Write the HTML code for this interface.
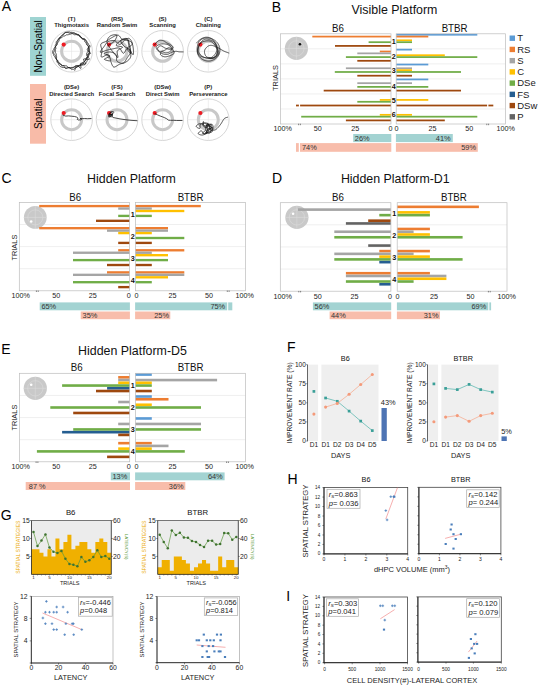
<!DOCTYPE html>
<html><head><meta charset="utf-8"><title>Figure</title>
<style>html,body{margin:0;padding:0;background:#fff;}body{width:539px;height:685px;overflow:hidden;font-family:"Liberation Sans",sans-serif;}svg{display:block;}</style>
</head><body>
<svg width="539" height="685" viewBox="0 0 539 685" font-family='"Liberation Sans", sans-serif'>
<text x="6.5" y="11.23" font-size="14" text-anchor="middle" fill="#000">A</text>
<rect x="30" y="17" width="16" height="58.8" fill="#9fd4d2"/>
<rect x="30" y="84" width="16" height="59.7" fill="#f8bba8"/>
<text transform="translate(38.2,46.4) rotate(-90)" x="0" y="3.45" font-size="10" text-anchor="middle" fill="#000">Non-Spatial</text>
<text transform="translate(38.2,113.8) rotate(-90)" x="0" y="3.45" font-size="10" text-anchor="middle" fill="#000">Spatial</text>
<text x="71.6" y="21.04" font-size="5.9" text-anchor="middle" fill="#222" font-weight="bold">(T)</text>
<text x="71.6" y="27.34" font-size="5.9" text-anchor="middle" fill="#222" font-weight="bold">Thigmotaxis</text>
<circle cx="71.6" cy="51.3" r="20.8" fill="none" stroke="#c4c4c4" stroke-width="0.7"/>
<line x1="50.8" y1="51.3" x2="92.4" y2="51.3" stroke="#e2e2e2" stroke-width="0.6"/>
<line x1="71.6" y1="30.5" x2="71.6" y2="72.1" stroke="#e2e2e2" stroke-width="0.6"/>
<circle cx="71.6" cy="51.3" r="10" fill="none" stroke="#c8c8c8" stroke-width="3"/>
<circle cx="63.7" cy="44.6" r="2.1" fill="#ee1c24" stroke="none" stroke-width="1"/>
<polyline points="60.07,38.4 60.29,38.24 60.54,38.11 60.8,38.01 61.06,37.89 61.29,37.76 61.52,37.62 61.74,37.47 61.96,37.31 62.17,37.15 62.38,36.97 62.58,36.8 62.8,36.64 63.01,36.47 63.22,36.29 63.45,36.14 63.7,36.04 63.98,35.99 64.27,35.98 64.56,35.97 64.83,35.93 65.08,35.84 65.31,35.7 65.52,35.51 65.73,35.31 65.94,35.11 66.17,34.94 66.42,34.84 66.7,34.81 66.97,34.8 67.25,34.79 67.53,34.79 67.8,34.77 68.06,34.73 68.32,34.68 68.58,34.62 68.84,34.56 69.1,34.49 69.36,34.42 69.62,34.36 69.89,34.29 70.15,34.22 70.42,34.15 70.68,34.07 70.95,33.97 71.22,33.83 71.49,33.71 71.77,33.62 72.05,33.58 72.33,33.61 72.6,33.68 72.87,33.8 73.14,33.94 73.4,34.09 73.65,34.25 73.9,34.42 74.15,34.56 74.4,34.66 74.66,34.72 74.93,34.74 75.21,34.71 75.5,34.64 75.79,34.57 76.08,34.54 76.36,34.56 76.63,34.61 76.89,34.7 77.14,34.8 77.41,34.88 77.68,34.94 77.95,34.98 78.23,35.04 78.49,35.13 78.73,35.26 78.96,35.43 79.17,35.63 79.38,35.82 79.6,35.98 79.85,36.1 80.1,36.21 80.34,36.32 80.58,36.46 80.8,36.62 81.01,36.81 81.18,37.03 81.34,37.28 81.48,37.55 81.6,37.83 81.72,38.11 81.84,38.37 81.98,38.61 82.16,38.8 82.38,38.94 82.66,39.01 82.98,39.05 83.31,39.08 83.64,39.13 83.94,39.22 84.17,39.37 84.33,39.59 84.42,39.88 84.44,40.21 84.45,40.55 84.47,40.88 84.51,41.18 84.6,41.43 84.75,41.64 84.93,41.83 85.14,42 85.35,42.17 85.54,42.35 85.73,42.54 85.9,42.75 86.04,42.97 86.16,43.2 86.26,43.44 86.33,43.7 86.39,43.96 86.46,44.22 86.54,44.46 86.66,44.69 86.82,44.91 87.02,45.1 87.27,45.29 87.56,45.46 87.84,45.65 88.1,45.85 88.29,46.07 88.41,46.32 88.48,46.59 88.52,46.87 88.53,47.15 88.54,47.43 88.55,47.7 88.57,47.98 88.64,48.24 88.77,48.5 88.92,48.75 89.07,49.01 89.2,49.27 89.27,49.54 89.31,49.82 89.3,50.1 89.27,50.38 89.23,50.66 89.22,50.94 89.24,51.22 89.3,51.49 89.35,51.77 89.36,52.05 89.32,52.33 89.21,52.6 89.06,52.87 88.9,53.13 88.76,53.39 88.68,53.65 88.68,53.92 88.72,54.21 88.79,54.5 88.84,54.79 88.85,55.07 88.8,55.35 88.72,55.61 88.6,55.87 88.45,56.11 88.28,56.35 88.1,56.58 87.93,56.81 87.79,57.05 87.64,57.28 87.48,57.51 87.32,57.73 87.17,57.96 87.06,58.2 86.96,58.45 86.88,58.7 86.77,58.95 86.63,59.18 86.47,59.39 86.29,59.6 86.1,59.79 85.87,59.96 85.65,60.13 85.45,60.32 85.29,60.52 85.15,60.74 85.02,60.96 84.85,61.16 84.65,61.33 84.4,61.47 84.14,61.59 83.89,61.71 83.65,61.84 83.43,61.98 83.21,62.12 82.99,62.25 82.76,62.37 82.53,62.49 82.32,62.62 82.12,62.76 81.94,62.93 81.8,63.14 81.68,63.39 81.57,63.65 81.46,63.91 81.33,64.16 81.18,64.38 81,64.56 80.82,64.76 80.65,64.96 80.47,65.16 80.26,65.31 80.03,65.43 79.78,65.51 79.51,65.56 79.23,65.58 78.95,65.59 78.68,65.61 78.43,65.67 78.22,65.82 78.05,66.05 77.9,66.35 77.75,66.67 77.57,66.93 77.36,67.12 77.12,67.22 76.83,67.21 76.52,67.07 76.19,66.88 75.87,66.68 75.57,66.54 75.31,66.51 75.08,66.6 74.86,66.75 74.63,66.9 74.4,67.02 74.16,67.09 73.91,67.13 73.66,67.16 73.41,67.19 73.16,67.23 72.91,67.3 72.67,67.37 72.42,67.46 72.17,67.56 71.91,67.67 71.66,67.76 71.4,67.84 71.13,67.9 70.87,67.96 70.61,67.99 70.34,68 70.08,67.96 69.82,67.89 69.57,67.8 69.32,67.71 69.07,67.63 68.82,67.57 68.56,67.51 68.31,67.46 68.04,67.45 67.76,67.51 67.46,67.63 67.14,67.8 66.81,67.97 66.48,68.12 66.16,68.23 65.85,68.28 65.56,68.23 65.3,68.12 65.07,67.96 64.85,67.73 64.67,67.46 64.49,67.17 64.34,66.85 64.21,66.5 64.08,66.17 63.94,65.88 63.75,65.69 63.5,65.6 63.21,65.59 62.87,65.64 62.51,65.71 62.18,65.74 61.9,65.67 61.69,65.49 61.55,65.22 61.46,64.89 61.37,64.57 61.25,64.3 61.07,64.1 60.85,63.96 60.57,63.88 60.27,63.82 59.98,63.75 59.72,63.63 59.52,63.45 59.36,63.23 59.22,62.99 59.07,62.76 58.91,62.55 58.73,62.35 58.56,62.14 58.42,61.92 58.3,61.67 58.21,61.41 58.13,61.14 58.04,60.88 57.93,60.64 57.76,60.44 57.55,60.27 57.3,60.11 57.04,59.96 56.8,59.79 56.57,59.61 56.37,59.41 56.2,59.19 56.04,58.97 55.87,58.75 55.7,58.52 55.56,58.29 55.44,58.04 55.33,57.79 55.21,57.54 55.1,57.28 54.98,57.04 54.82,56.8 54.63,56.56 54.4,56.34 54.17,56.11 53.97,55.87 53.84,55.61 53.75,55.33 53.67,55.05 53.6,54.78 53.51,54.5 53.39,54.23 53.23,53.96 53.05,53.68 52.86,53.41 52.7,53.13 52.6,52.84 52.58,52.54 52.6,52.24 52.64,51.94 52.68,51.64 52.73,51.34 52.8,51.04 52.89,50.75 53.02,50.46 53.19,50.18 53.39,49.9 53.57,49.63 53.72,49.36 53.84,49.09 53.91,48.82 54.01,48.55 54.15,48.29 54.33,48.04 54.54,47.8 54.75,47.57 54.96,47.34 55.13,47.1 55.24,46.86 55.29,46.59 55.28,46.31 55.25,46.02 55.24,45.73 55.28,45.46 55.37,45.2 55.49,44.95 55.64,44.72 55.81,44.5 55.98,44.28 56.11,44.05 56.19,43.78 56.22,43.5 56.22,43.19 56.22,42.88 56.21,42.56 56.22,42.24 56.25,41.93 56.32,41.64 56.46,41.39 56.67,41.19 56.92,41.02 57.16,40.85 57.4,40.67 57.61,40.48 57.77,40.26 57.89,40 57.98,39.7 58.05,39.39 58.14,39.09 58.28,38.83 58.49,38.63 58.74,38.47 59.01,38.35 59.29,38.23 59.55,38.1 59.78,37.93 59.97,37.73 60.13,37.47 60.27,37.2 60.42,36.92 60.56,36.64 60.72,36.37 60.91,36.13 61.1,35.9 61.31,35.68 61.53,35.48 61.77,35.3 62.02,35.14 62.28,35.01 62.55,34.88 62.82,34.76 63.07,34.62 63.31,34.42 63.51,34.17 63.72,33.89 63.93,33.62 64.15,33.36 64.39,33.14 64.65,32.97 64.93,32.83 65.21,32.71 65.51,32.61 65.8,32.52 66.09,32.41 66.38,32.29 66.67,32.17 66.97,32.11 67.3,32.14 67.64,32.25 67.98,32.41 68.32,32.61 68.66,32.83 68.98,33.02 69.29,33.16 69.59,33.22 69.87,33.21 70.15,33.13 70.44,33.05 70.72,33.01 71.01,33.04 71.3,33.12 71.59,33.21 71.87,33.29 72.15,33.35 72.43,33.35 72.72,33.29 73.01,33.2 73.31,33.11 73.6,33.06 73.89,33.05 74.18,33.09 74.46,33.18 74.73,33.3 75,33.42 75.27,33.52 75.55,33.58 75.84,33.61 76.13,33.62 76.42,33.66 76.7,33.72 76.96,33.83 77.21,33.99 77.45,34.19 77.66,34.44 77.87,34.69 78.08,34.92 78.31,35.08 78.56,35.19 78.83,35.28 79.09,35.37 79.33,35.5 79.55,35.68 79.75,35.9 79.92,36.14 80.09,36.41 80.25,36.66 80.43,36.88 80.63,37.06 80.85,37.21 81.09,37.33 81.33,37.44 81.56,37.59 81.76,37.75 81.96,37.94 82.16,38.11 82.37,38.28 82.59,38.42 82.85,38.54 83.13,38.62 83.45,38.68 83.79,38.72 84.13,38.77 84.46,38.84 84.75,38.95 84.98,39.12 85.18,39.33 85.34,39.57 85.47,39.83 85.58,40.1 85.71,40.35 85.88,40.58 86.09,40.77 86.33,40.95 86.57,41.13 86.79,41.32 86.98,41.54 87.14,41.78 87.26,42.04 87.39,42.29 87.53,42.54 87.68,42.79 87.84,43.03 88.01,43.26 88.19,43.5 88.34,43.75 88.45,44.01 88.55,44.28 88.67,44.55 88.82,44.8 89.02,45.03 89.25,45.26 89.48,45.5 89.69,45.74 89.85,46 89.94,46.29 89.96,46.59 89.91,46.91 89.78,47.24 89.6,47.58 89.39,47.91 89.16,48.24 88.92,48.56 88.7,48.87 88.52,49.17 88.41,49.45 88.39,49.72 88.41,49.98 88.45,50.25 88.47,50.51 88.45,50.78 88.37,51.04 88.22,51.31 88.02,51.57 87.78,51.82 87.52,52.06 87.25,52.29 87,52.52 86.81,52.75 86.68,52.97 86.6,53.2 86.57,53.44 86.61,53.69 86.7,53.94 86.83,54.22 86.97,54.49 87.12,54.78 87.25,55.07 87.36,55.36 87.43,55.64 87.47,55.92 87.45,56.19 87.35,56.43 87.2,56.65 87.02,56.86 86.85,57.08 86.72,57.3 86.65,57.55 86.65,57.83 86.71,58.14 86.81,58.48 86.91,58.82 87.01,59.17 87.09,59.52 87.15,59.87 87.19,60.21 87.18,60.54 87.12,60.83 87.01,61.1 86.88,61.36 86.74,61.61 86.58,61.85 86.43,62.1 86.27,62.34 86.14,62.6 86.02,62.88 85.91,63.16 85.78,63.44 85.65,63.72 85.49,63.97 85.31,64.2 85.1,64.41 84.85,64.58 84.54,64.69 84.22,64.77 83.89,64.84 83.54,64.87 83.19,64.91 82.87,64.95 82.56,65.01 82.26,65.08 81.96,65.14 81.66,65.19 81.37,65.24 81.07,65.28 80.79,65.32 80.51,65.39 80.26,65.48 80.02,65.59 79.81,65.74 79.6,65.9 79.38,66.04 79.13,66.14 78.86,66.18 78.56,66.15 78.24,66.07 77.91,65.95 77.59,65.81 77.27,65.69 76.97,65.59 76.7,65.52 76.44,65.51 76.19,65.51 75.95,65.52 75.72,65.57 75.5,65.65 75.3,65.79 75.1,65.98 74.91,66.21 74.71,66.45 74.51,66.68 74.29,66.88 74.07,67.07 73.84,67.23 73.6,67.37 73.36,67.49 73.11,67.61 72.86,67.71 72.61,67.79 72.35,67.84 72.09,67.86 71.83,67.84 71.57,67.82 71.31,67.8 71.05,67.78 70.79,67.76 70.53,67.75 70.27,67.75 70.01,67.74 69.76,67.7 69.5,67.66 69.24,67.62 68.99,67.6 68.73,67.56 68.48,67.5 68.23,67.39 68,67.23 67.79,67.01 67.6,66.76 67.41,66.5 67.22,66.27 67.02,66.06 66.81,65.95 66.56,65.91 66.3,65.91 66.04,65.91 65.8,65.87 65.56,65.8 65.32,65.72 65.09,65.63 64.86,65.55 64.6,65.52 64.31,65.52 64.01,65.56 63.69,65.61 63.36,65.67 63.03,65.72 62.72,65.72 62.43,65.67 62.17,65.58 61.94,65.45 61.72,65.29 61.52,65.1 61.32,64.92 61.11,64.75 60.87,64.62 60.6,64.53 60.32,64.44 60.04,64.35 59.79,64.22 59.59,64.02 59.45,63.77 59.35,63.49 59.27,63.19 59.18,62.91 59.04,62.67 58.85,62.48 58.59,62.35 58.29,62.25 58,62.14 57.74,61.99 57.54,61.8 57.41,61.55 57.34,61.27 57.3,60.96 57.27,60.66 57.21,60.38 57.09,60.14 56.91,59.94 56.7,59.74 56.51,59.54 56.36,59.31 56.29,59.05 56.29,58.75 56.35,58.42 56.44,58.09 56.53,57.77 56.59,57.47 56.62,57.18 56.61,56.91 56.57,56.66 56.53,56.41 56.49,56.16 56.44,55.92 56.4,55.67 56.38,55.42 56.37,55.16 56.36,54.91 56.37,54.66 56.37,54.41 56.32,54.17 56.23,53.93 56.09,53.71 55.93,53.48 55.78,53.25 55.64,53.01 55.52,52.77 55.43,52.52 55.37,52.27 55.33,52.02 55.33,51.76 55.36,51.5 55.39,51.25 55.44,51 55.49,50.74 55.54,50.49 55.55,50.24 55.53,49.98 55.5,49.73 55.52,49.47 55.6,49.23 55.7,48.98 55.79,48.74 55.87,48.5 55.9,48.25 55.87,47.99 55.78,47.71 55.66,47.42 55.55,47.12 55.51,46.84 55.58,46.59 55.72,46.35 55.89,46.14 56.06,45.92 56.18,45.69 56.25,45.44 56.28,45.17 56.28,44.89 56.3,44.61 56.37,44.36 56.5,44.13 56.69,43.93 56.93,43.76 57.17,43.59 57.39,43.42 57.57,43.23 57.71,43.02 57.81,42.78 57.9,42.54 58.02,42.31 58.15,42.09 58.32,41.89 58.49,41.7 58.65,41.51 58.81,41.31 58.95,41.09 59.05,40.84 59.11,40.55 59.13,40.22 59.16,39.89 59.19,39.56 59.24,39.23 59.33,38.94 59.47,38.69 59.66,38.49 59.88,38.32 60.11,38.17 60.33,38 60.52,37.8 60.68,37.56 60.83,37.3 60.98,37.03 61.13,36.77 61.3,36.52 61.48,36.28 61.66,36.04 61.86,35.82 62.06,35.59 62.27,35.39 62.5,35.2 62.75,35.04 63,34.9 63.27,34.78 63.51,34.62 63.73,34.4 63.93,34.12 64.1,33.77 64.27,33.39 64.46,33.04 64.68,32.77 64.95,32.58 65.24,32.46 65.55,32.41 65.88,32.42 66.21,32.46 66.54,32.49 66.85,32.48 67.16,32.44 67.45,32.36 67.74,32.26 68.03,32.15 68.33,32.05 68.62,31.98 68.93,31.94 69.24,31.96 69.56,32.03 69.87,32.13 70.18,32.23 70.49,32.32 70.79,32.37 71.09,32.38 71.39,32.37 71.68,32.34 71.98,32.35 72.28,32.39 72.57,32.47 72.86,32.58 73.15,32.69 73.44,32.78 73.72,32.88 74,32.99 74.28,33.09 74.56,33.17 74.83,33.28 75.09,33.43 75.35,33.61 75.59,33.81 75.83,34.02 76.07,34.24 76.3,34.44 76.54,34.59 76.79,34.7 77.06,34.78 77.34,34.79 77.64,34.76 77.96,34.71 78.28,34.67 78.59,34.65 78.88,34.69 79.14,34.82 79.35,35.04 79.51,35.35 79.63,35.73 79.73,36.13 79.82,36.53 79.92,36.87 80.08,37.12 80.27,37.3 80.51,37.41 80.78,37.47 81.05,37.54 81.31,37.63 81.54,37.76 81.75,37.92 81.91,38.14 82.05,38.39 82.18,38.64 82.33,38.86 82.53,39.03 82.78,39.14 83.09,39.19 83.44,39.21 83.8,39.22 84.17,39.25 84.51,39.3 84.82,39.39 85.1,39.52 85.32,39.71 85.5,39.92 85.65,40.16 85.79,40.41 85.9,40.68 85.98,40.97 86.03,41.27 86.08,41.57 86.16,41.85 86.25,42.11 86.39,42.35 86.55,42.56 86.73,42.78 86.88,43.01 87,43.25 87.09,43.51 87.15,43.78 87.2,44.06 87.24,44.34 87.3,44.61 87.42,44.85 87.58,45.07 87.78,45.29 87.97,45.51 88.13,45.74 88.24,46 88.31,46.26 88.37,46.53 88.42,46.8 88.45,47.07 88.49,47.34 88.55,47.61 88.64,47.87 88.77,48.12 88.9,48.38 88.98,48.65 89.02,48.92 89.05,49.2 89.1,49.47 89.17,49.74 89.24,50.01 89.27,50.29 89.27,50.57 89.28,50.85 89.3,51.12 89.31,51.4 89.31,51.68 89.3,51.96 89.3,52.24 89.3,52.52 89.32,52.8 89.35,53.08 89.36,53.37 89.34,53.65 89.27,53.92 89.14,54.18 88.98,54.44 88.79,54.68 88.61,54.93 88.46,55.17 88.37,55.43 88.34,55.71 88.36,55.99 88.4,56.29 88.43,56.59 88.4,56.87 88.28,57.12 88.07,57.34 87.79,57.53 87.47,57.69 87.12,57.84 86.75,57.97 86.4,58.09 86.1,58.23 85.87,58.4 85.71,58.6 85.61,58.83 85.55,59.08 85.5,59.35 85.48,59.62 85.47,59.92 85.45,60.21 85.38,60.48 85.29,60.73 85.17,60.96 85.02,61.18 84.85,61.38 84.65,61.55 84.41,61.7 84.17,61.83 83.95,61.98 83.77,62.16 83.63,62.38 83.53,62.64 83.45,62.93 83.4,63.25 83.35,63.58 83.27,63.89 83.14,64.14 82.95,64.35 82.72,64.49 82.45,64.59 82.16,64.65 81.84,64.68 81.5,64.66 81.15,64.63 80.81,64.59 80.5,64.58 80.21,64.6 79.96,64.67 79.74,64.79 79.56,64.96 79.39,65.18 79.24,65.41 79.05,65.6 78.83,65.73 78.59,65.81 78.34,65.88 78.1,65.95 77.86,66.05 77.66,66.21 77.48,66.44 77.3,66.7 77.12,66.97 76.92,67.2 76.7,67.37 76.45,67.46 76.19,67.51 75.93,67.56 75.68,67.66 75.45,67.82 75.22,68.02 74.99,68.28 74.77,68.56 74.53,68.82 74.28,69.03 74.02,69.18 73.74,69.27 73.46,69.32 73.18,69.32 72.89,69.32 72.61,69.34 72.32,69.36 72.04,69.37 71.76,69.34 71.47,69.24 71.19,69.08 70.92,68.88 70.66,68.65 70.4,68.42 70.15,68.19 69.9,68 69.65,67.87 69.4,67.79 69.14,67.77 68.87,67.78 68.6,67.81 68.32,67.86 68.03,67.93 67.73,68.02 67.43,68.13 67.13,68.21 66.82,68.27 66.53,68.3 66.24,68.29 65.96,68.23 65.7,68.12 65.46,67.97 65.22,67.82 64.98,67.67 64.73,67.56 64.45,67.49 64.15,67.47 63.84,67.49 63.5,67.53 63.16,67.56 62.83,67.56 62.52,67.52 62.25,67.42 61.99,67.28 61.73,67.13 61.47,66.99 61.2,66.88 60.91,66.78 60.62,66.67 60.36,66.52 60.13,66.33 59.93,66.11 59.74,65.88 59.54,65.65 59.35,65.42 59.16,65.19 58.98,64.96 58.81,64.71 58.68,64.43 58.57,64.13 58.49,63.81 58.4,63.51 58.27,63.24 58.09,63.03 57.85,62.86 57.59,62.71 57.34,62.55 57.15,62.33 57.04,62.06 57,61.73 57.01,61.38 57.03,61.04 57.02,60.71 56.99,60.41 56.91,60.14 56.81,59.89 56.7,59.65 56.59,59.4 56.49,59.15 56.42,58.88 56.34,58.63 56.24,58.38 56.11,58.14 55.98,57.91 55.86,57.67 55.77,57.42 55.72,57.15 55.7,56.88 55.68,56.61 55.65,56.34 55.6,56.08 55.52,55.83 55.4,55.59 55.27,55.35 55.13,55.11 54.98,54.87 54.82,54.63 54.64,54.39 54.44,54.15 54.22,53.91 54,53.66 53.81,53.4 53.67,53.13 53.59,52.85 53.59,52.57 53.65,52.28 53.77,51.99 53.93,51.71 54.1,51.43 54.25,51.15 54.36,50.88 54.44,50.62 54.48,50.35 54.5,50.08 54.51,49.81 54.54,49.54 54.61,49.28 54.69,49.02 54.78,48.76 54.85,48.5 54.9,48.24 54.92,47.97 54.94,47.7 55,47.44 55.11,47.19 55.24,46.95 55.4,46.72 55.57,46.49 55.74,46.27 55.93,46.06 56.14,45.86 56.34,45.66 56.55,45.47 56.77,45.28 56.97,45.09 57.13,44.89 57.24,44.66 57.25,44.39 57.19,44.08 57.11,43.75 57.04,43.43 57.03,43.12 57.07,42.84 57.13,42.57 57.21,42.3 57.32,42.06 57.44,41.82 57.56,41.57 57.64,41.3 57.7,41.01 57.77,40.72 57.85,40.44 57.97,40.18 58.12,39.95 58.3,39.74 58.49,39.53 58.68,39.33 58.85,39.11 59.01,38.87 59.14,38.62 59.26,38.33 59.35,38.02 59.45,37.7" fill="none" stroke="#111" stroke-width="0.75" stroke-linejoin="round" stroke-linecap="round"/>
<text x="117" y="21.04" font-size="5.9" text-anchor="middle" fill="#222" font-weight="bold">(RS)</text>
<text x="117" y="27.34" font-size="5.9" text-anchor="middle" fill="#222" font-weight="bold">Random Swim</text>
<circle cx="117" cy="51.3" r="20.8" fill="none" stroke="#c4c4c4" stroke-width="0.7"/>
<line x1="96.2" y1="51.3" x2="137.8" y2="51.3" stroke="#e2e2e2" stroke-width="0.6"/>
<line x1="117" y1="30.5" x2="117" y2="72.1" stroke="#e2e2e2" stroke-width="0.6"/>
<circle cx="117" cy="51.3" r="10" fill="none" stroke="#c8c8c8" stroke-width="3"/>
<circle cx="109.1" cy="44.6" r="2.1" fill="#ee1c24" stroke="none" stroke-width="1"/>
<polyline points="109,44.8 109.27,44.63 109.62,44.43 110.03,44.19 110.5,43.93 111,43.65 111.53,43.34 112.07,43.01 112.6,42.66 113.1,42.3 113.58,41.92 114,41.52 114.36,41.12 114.69,40.68 115.03,40.17 115.37,39.62 115.7,39.03 116.01,38.42 116.29,37.81 116.53,37.22 116.71,36.67 116.84,36.16 116.89,35.71 116.86,35.35 116.75,35.08 116.51,34.89 116.15,34.77 115.68,34.7 115.14,34.69 114.53,34.72 113.88,34.8 113.22,34.91 112.55,35.07 111.91,35.25 111.3,35.47 110.76,35.71 110.31,35.97 109.9,36.27 109.5,36.62 109.11,37.02 108.74,37.46 108.39,37.94 108.06,38.44 107.77,38.95 107.52,39.48 107.3,40.01 107.13,40.53 107.02,41.05 106.96,41.54 106.96,42.02 107.03,42.52 107.16,43.02 107.34,43.52 107.56,44.03 107.82,44.54 108.1,45.04 108.39,45.55 108.7,46.04 109.01,46.53 109.31,47.01 109.59,47.48 109.88,47.94 110.18,48.38 110.49,48.82 110.81,49.26 111.15,49.69 111.49,50.11 111.84,50.53 112.19,50.95 112.54,51.36 112.89,51.78 113.24,52.19 113.59,52.61 113.95,53.06 114.34,53.57 114.75,54.11 115.17,54.68 115.6,55.24 116.01,55.78 116.41,56.28 116.79,56.72 117.13,57.08 117.43,57.34 117.68,57.49 117.87,57.5 117.98,57.35 117.99,57.05 117.94,56.62 117.84,56.08 117.7,55.47 117.54,54.8 117.4,54.11 117.27,53.41 117.18,52.72 117.15,52.08 117.2,51.5 117.34,51.02 117.61,50.6 118.01,50.2 118.51,49.82 119.08,49.46 119.69,49.12 120.31,48.8 120.91,48.49 121.46,48.2 121.94,47.92 122.3,47.66 122.52,47.4 122.57,47.16 122.42,46.95 122.07,46.78 121.57,46.64 120.94,46.53 120.24,46.43 119.5,46.33 118.75,46.23 118.04,46.12 117.4,45.99 116.88,45.83 116.5,45.63 116.32,45.39 116.31,45.08 116.42,44.72 116.63,44.32 116.93,43.89 117.31,43.43 117.75,42.97 118.23,42.51 118.74,42.06 119.26,41.64 119.78,41.25 120.29,40.92 120.76,40.64 121.24,40.4 121.77,40.16 122.33,39.93 122.92,39.73 123.53,39.55 124.13,39.4 124.73,39.29 125.31,39.23 125.85,39.21 126.35,39.26 126.79,39.36 127.17,39.54 127.47,39.81 127.72,40.16 127.92,40.59 128.08,41.09 128.21,41.63 128.31,42.22 128.4,42.83 128.48,43.45 128.55,44.07 128.64,44.69 128.73,45.27 128.85,45.82 129,46.35 129.18,46.88 129.36,47.41 129.56,47.95 129.75,48.48 129.93,49.02 130.1,49.55 130.24,50.08 130.35,50.6 130.42,51.12 130.44,51.63 130.4,52.13 130.3,52.63 130.14,53.12 129.94,53.6 129.7,54.08 129.42,54.55 129.12,55.02 128.8,55.49 128.47,55.95 128.13,56.41 127.8,56.87 127.48,57.32 127.17,57.77 126.88,58.25 126.59,58.75 126.3,59.27 126.01,59.8 125.72,60.33 125.42,60.85 125.11,61.34 124.79,61.79 124.45,62.19 124.09,62.53 123.71,62.81 123.3,63 122.84,63.11 122.33,63.16 121.77,63.16 121.19,63.1 120.59,63 119.98,62.85 119.38,62.66 118.81,62.43 118.28,62.17 117.8,61.88 117.38,61.57 117.04,61.24 116.8,60.86 116.64,60.39 116.57,59.87 116.54,59.3 116.56,58.7 116.59,58.08 116.63,57.46 116.65,56.85 116.64,56.26 116.57,55.71 116.43,55.22 116.2,54.79 115.89,54.42 115.52,54.07 115.09,53.74 114.63,53.44 114.13,53.16 113.6,52.91 113.06,52.68 112.5,52.49 111.94,52.32 111.39,52.18 110.85,52.08 110.32,52.01 109.77,51.98 109.15,52 108.49,52.06 107.79,52.15 107.1,52.27 106.42,52.42 105.78,52.59 105.21,52.77 104.72,52.95 104.34,53.14 104.09,53.32 104,53.5 104.1,53.67 104.42,53.85 104.9,54.04 105.51,54.23 106.21,54.44 106.95,54.65 107.7,54.86 108.4,55.08 109.02,55.31 109.52,55.54 109.86,55.77 109.99,56.01 109.89,56.26 109.58,56.53 109.12,56.8 108.53,57.09 107.85,57.38 107.14,57.68 106.43,57.97 105.77,58.25 105.18,58.52 104.72,58.77 104.42,59.01 104.34,59.22 104.47,59.42 104.8,59.65 105.29,59.88 105.9,60.11 106.6,60.33 107.33,60.53 108.08,60.69 108.8,60.82 109.46,60.89 110.01,60.91 110.42,60.85 110.66,60.72 110.74,60.47 110.73,60.09 110.63,59.61 110.46,59.05 110.22,58.45 109.92,57.81 109.59,57.18 109.22,56.58 108.83,56.03 108.42,55.56 108.02,55.2 107.63,54.97 107.2,54.9 106.7,54.96 106.15,55.13 105.55,55.39 104.94,55.7 104.32,56.03 103.71,56.37 103.13,56.67 102.6,56.91 102.13,57.07 101.74,57.11 101.45,57.01 101.27,56.76 101.18,56.42 101.16,55.98 101.2,55.47 101.3,54.91 101.42,54.29 101.56,53.65 101.7,53 101.84,52.34 101.94,51.7 102.01,51.09 102.02,50.53 101.96,49.98 101.85,49.42 101.69,48.84 101.51,48.26 101.32,47.69 101.13,47.11 100.96,46.55 100.83,46.01 100.74,45.49 100.71,45 100.76,44.54 100.9,44.13 101.14,43.76 101.47,43.43 101.86,43.14 102.32,42.89 102.83,42.65 103.37,42.43 103.93,42.23 104.5,42.02 105.08,41.81 105.63,41.59 106.16,41.36 106.65,41.1 107.11,40.81 107.57,40.51 108.01,40.21 108.46,39.89 108.9,39.57 109.34,39.26 109.78,38.94 110.23,38.63 110.68,38.33 111.13,38.04 111.6,37.76 112.07,37.5 112.56,37.24 113.06,36.96 113.57,36.67 114.1,36.38 114.62,36.09 115.15,35.83 115.68,35.59 116.19,35.39 116.7,35.24 117.2,35.15 117.68,35.12 118.14,35.17 118.57,35.33 118.97,35.6 119.36,35.96 119.73,36.39 120.08,36.87 120.44,37.38 120.8,37.89 121.16,38.38 121.53,38.83 121.92,39.22 122.34,39.52 122.78,39.72 123.26,39.79 123.78,39.76 124.33,39.65 124.9,39.47 125.49,39.26 126.07,39.02 126.65,38.79 127.22,38.59 127.76,38.43 128.27,38.34 128.74,38.35 129.16,38.47 129.56,38.71 129.96,39.04 130.35,39.45 130.73,39.92 131.08,40.44 131.4,40.99 131.69,41.57 131.92,42.14 132.1,42.71 132.22,43.25 132.27,43.75 132.23,44.2 132.07,44.6 131.77,44.98 131.36,45.34 130.87,45.68 130.31,46.02 129.74,46.34 129.16,46.67 128.61,47 128.13,47.34 127.73,47.69 127.45,48.06 127.31,48.45 127.33,48.89 127.5,49.41 127.77,49.98 128.13,50.57 128.56,51.18 129.01,51.77 129.47,52.32 129.91,52.83 130.3,53.25 130.61,53.58 130.83,53.79 130.91,53.86 130.88,53.74 130.77,53.44 130.59,52.99 130.35,52.42 130.06,51.77 129.74,51.09 129.39,50.4 129.02,49.75 128.65,49.18 128.28,48.71 127.92,48.4 127.6,48.27 127.28,48.34 126.95,48.6 126.61,49.01 126.27,49.52 125.92,50.11 125.57,50.73 125.21,51.36 124.85,51.95 124.49,52.47 124.14,52.89 123.78,53.16 123.44,53.26 123.1,53.17 122.78,52.93 122.46,52.57 122.15,52.11 121.84,51.58 121.53,51.01 121.21,50.42 120.88,49.85 120.53,49.31 120.16,48.84 119.76,48.47 119.34,48.22 118.88,48.07 118.39,47.98 117.88,47.96 117.35,47.98 116.8,48.04 116.24,48.13 115.67,48.24 115.1,48.37 114.53,48.5 113.97,48.63 113.41,48.75 112.87,48.85 112.34,48.95 111.8,49.04 111.27,49.15 110.74,49.26 110.21,49.38 109.68,49.5 109.16,49.63 108.63,49.76 108.11,49.89 107.58,50.03 107.06,50.17 106.53,50.31 105.98,50.47 105.38,50.68 104.74,50.92 104.09,51.18 103.44,51.44 102.81,51.69 102.21,51.92 101.66,52.1 101.18,52.24 100.79,52.31 100.49,52.31 100.32,52.21 100.27,52.02 100.34,51.73 100.51,51.36 100.77,50.93 101.09,50.45 101.46,49.93 101.87,49.39 102.3,48.84 102.73,48.29 103.16,47.75 103.55,47.25 103.9,46.79 104.21,46.34 104.53,45.88 104.84,45.41 105.15,44.94 105.46,44.47 105.78,44 106.11,43.56 106.46,43.13 106.82,42.73 107.19,42.37 107.59,42.04 108.02,41.76 108.48,41.52 108.97,41.29 109.49,41.09 110.03,40.92 110.58,40.77 111.15,40.66 111.72,40.57 112.28,40.52 112.85,40.49 113.39,40.51 113.92,40.56 114.42,40.65 114.91,40.81 115.38,41.08 115.83,41.42 116.28,41.82 116.73,42.25 117.16,42.69 117.59,43.12 118.02,43.52 118.45,43.87 118.88,44.14 119.31,44.32 119.75,44.38 120.18,44.3 120.6,44.1 121.02,43.8 121.44,43.43 121.85,43 122.27,42.54 122.69,42.07 123.12,41.62 123.55,41.21 123.99,40.86 124.45,40.6 124.92,40.44 125.42,40.36 125.95,40.33 126.51,40.35 127.09,40.4 127.68,40.49 128.26,40.62 128.84,40.78 129.39,40.97 129.91,41.2 130.4,41.46 130.83,41.74 131.21,42.06 131.54,42.41 131.82,42.82 132.07,43.27 132.29,43.76 132.47,44.29 132.63,44.84 132.77,45.4 132.89,45.98 132.99,46.56 133.08,47.13 133.17,47.69 133.25,48.23 133.32,48.8 133.38,49.43 133.44,50.11 133.48,50.81 133.51,51.52 133.52,52.2 133.5,52.84 133.47,53.43 133.41,53.93 133.33,54.33 133.22,54.6 133.07,54.73 132.89,54.69 132.68,54.5 132.44,54.18 132.17,53.75 131.88,53.24 131.57,52.67 131.23,52.07 130.88,51.45 130.52,50.85 130.15,50.29 129.77,49.79 129.39,49.37 128.99,49.03 128.55,48.72 128.08,48.44 127.59,48.18 127.09,47.93 126.59,47.69 126.08,47.44 125.59,47.19 125.11,46.93 124.66,46.64 124.24,46.31 123.86,45.96 123.49,45.55 123.1,45.09 122.7,44.59 122.31,44.06 121.93,43.52 121.58,42.98 121.28,42.44 121.03,41.91 120.84,41.42 120.73,40.97 120.71,40.57 120.79,40.23 121,39.93 121.34,39.64 121.8,39.37 122.34,39.12 122.95,38.9 123.6,38.71 124.27,38.57 124.93,38.47 125.57,38.43 126.16,38.44 126.68,38.52 127.1,38.67 127.44,38.9 127.75,39.23 128.01,39.63 128.25,40.1 128.46,40.62 128.65,41.18 128.82,41.77 128.97,42.37 129.12,42.98 129.26,43.58 129.4,44.15 129.54,44.69 129.68,45.21 129.82,45.74 129.94,46.26 130.05,46.8 130.16,47.33 130.25,47.87 130.34,48.4 130.41,48.94 130.48,49.48 130.54,50.02 130.59,50.56 130.63,51.1 130.67,51.64 130.72,52.2 130.77,52.76 130.81,53.33 130.85,53.9 130.87,54.46 130.87,55.02 130.85,55.57 130.79,56.11 130.7,56.62 130.57,57.12 130.39,57.6 130.17,58.05 129.89,58.5 129.58,58.93 129.23,59.35 128.85,59.76 128.45,60.15 128.02,60.53 127.58,60.89 127.13,61.23 126.67,61.56 126.21,61.87 125.76,62.15 125.3,62.41 124.81,62.63 124.32,62.83 123.8,63 123.28,63.15 122.75,63.29 122.22,63.43 121.68,63.57 121.15,63.71 120.62,63.86 120.1,64.03 119.59,64.22 119.09,64.45 118.57,64.74 118.04,65.07 117.51,65.42 116.99,65.77 116.47,66.12 115.96,66.43 115.47,66.7 114.99,66.92 114.54,67.05 114.12,67.1 113.74,67.04 113.38,66.84 113.04,66.5 112.71,66.06 112.41,65.54 112.13,64.95 111.87,64.33 111.62,63.7 111.4,63.09 111.2,62.51 111.02,62 110.86,61.58 110.73,61.27" fill="none" stroke="#111" stroke-width="0.75" stroke-linejoin="round" stroke-linecap="round"/>
<text x="162.6" y="21.04" font-size="5.9" text-anchor="middle" fill="#222" font-weight="bold">(S)</text>
<text x="162.6" y="27.34" font-size="5.9" text-anchor="middle" fill="#222" font-weight="bold">Scanning</text>
<circle cx="162.6" cy="51.3" r="20.8" fill="none" stroke="#c4c4c4" stroke-width="0.7"/>
<line x1="141.8" y1="51.3" x2="183.4" y2="51.3" stroke="#e2e2e2" stroke-width="0.6"/>
<line x1="162.6" y1="30.5" x2="162.6" y2="72.1" stroke="#e2e2e2" stroke-width="0.6"/>
<circle cx="162.6" cy="51.3" r="10" fill="none" stroke="#c8c8c8" stroke-width="3"/>
<circle cx="154.7" cy="44.6" r="2.1" fill="#ee1c24" stroke="none" stroke-width="1"/>
<polyline points="154.6,44.8 154.71,44.65 154.86,44.45 155.02,44.22 155.21,43.96 155.41,43.67 155.63,43.38 155.86,43.09 156.1,42.81 156.35,42.54 156.6,42.3 156.85,42.07 157.12,41.83 157.39,41.58 157.68,41.34 157.97,41.11 158.28,40.9 158.59,40.7 158.92,40.53 159.25,40.4 159.6,40.3 159.96,40.24 160.35,40.22 160.76,40.22 161.18,40.25 161.6,40.3 162.02,40.37 162.44,40.46 162.85,40.56 163.24,40.68 163.6,40.8 163.94,40.94 164.25,41.1 164.54,41.29 164.82,41.49 165.1,41.71 165.38,41.93 165.66,42.15 165.95,42.38 166.26,42.59 166.6,42.8 166.97,43 167.36,43.19 167.77,43.38 168.2,43.58 168.63,43.77 169.06,43.96 169.48,44.16 169.88,44.37 170.26,44.58 170.6,44.8 170.93,45.03 171.28,45.28 171.62,45.53 171.95,45.79 172.26,46.05 172.53,46.31 172.76,46.57 172.94,46.82 173.06,47.07 173.1,47.3 173.06,47.53 172.96,47.78 172.8,48.03 172.58,48.28 172.32,48.52 172.02,48.74 171.69,48.94 171.34,49.1 170.97,49.22 170.6,49.3 170.2,49.33 169.76,49.32 169.28,49.27 168.78,49.19 168.26,49.08 167.72,48.95 167.18,48.8 166.64,48.64 166.11,48.47 165.6,48.3 165.09,48.09 164.57,47.82 164.04,47.5 163.5,47.17 162.97,46.83 162.46,46.51 161.95,46.23 161.47,46 161.02,45.85 160.6,45.8 160.2,45.85 159.79,45.97 159.4,46.17 159.02,46.42 158.66,46.71 158.34,47.02 158.07,47.36 157.85,47.69 157.69,48.01 157.6,48.3 157.58,48.6 157.63,48.93 157.74,49.29 157.9,49.66 158.1,50.02 158.34,50.36 158.62,50.68 158.93,50.95 159.26,51.16 159.6,51.3 159.98,51.37 160.42,51.38 160.91,51.34 161.43,51.26 161.97,51.14 162.53,51 163.08,50.84 163.62,50.66 164.13,50.48 164.6,50.3 165.04,50.09 165.46,49.82 165.87,49.52 166.27,49.19 166.66,48.86 167.05,48.55 167.43,48.27 167.82,48.04 168.2,47.87 168.6,47.8 169.01,47.81 169.44,47.89 169.88,48.02 170.32,48.2 170.76,48.42 171.18,48.68 171.58,48.95 171.96,49.23 172.3,49.52 172.6,49.8 172.88,50.09 173.16,50.42 173.42,50.77 173.67,51.14 173.88,51.52 174.05,51.9 174.17,52.28 174.22,52.64 174.2,52.98 174.1,53.3 173.9,53.6 173.59,53.89 173.21,54.17 172.76,54.44 172.26,54.71 171.72,54.96 171.18,55.19 170.63,55.41 170.1,55.62 169.6,55.8 169.12,55.97 168.62,56.14 168.11,56.3 167.59,56.45 167.07,56.58 166.55,56.69 166.04,56.77 165.54,56.82 165.06,56.83 164.6,56.8 164.14,56.73 163.66,56.61 163.17,56.45 162.69,56.26 162.22,56.05 161.79,55.82 161.4,55.57 161.06,55.31 160.79,55.05 160.6,54.8 160.48,54.52 160.43,54.2 160.44,53.85 160.5,53.48 160.6,53.11 160.74,52.76 160.92,52.44 161.13,52.16 161.36,51.94 161.6,51.8 161.88,51.75 162.21,51.78 162.58,51.87 162.98,52.01 163.41,52.17 163.86,52.35 164.31,52.52 164.75,52.66 165.19,52.76 165.6,52.8 166.01,52.79 166.42,52.77 166.85,52.73 167.27,52.66 167.69,52.58 168.11,52.48 168.51,52.35 168.9,52.19 169.26,52.01 169.6,51.8 169.94,51.55 170.3,51.26 170.66,50.93 171.02,50.58 171.35,50.21 171.64,49.82 171.88,49.43 172.04,49.04 172.12,48.66 172.1,48.3 171.97,47.94 171.74,47.56 171.42,47.17 171.04,46.78 170.6,46.39 170.12,46.02 169.61,45.67 169.1,45.34 168.59,45.05 168.1,44.8 167.6,44.59 167.07,44.41 166.51,44.25 165.94,44.12 165.35,44.02 164.76,43.94 164.19,43.87 163.63,43.83 163.1,43.81 162.6,43.8 162.13,43.81 161.68,43.85 161.24,43.91 160.82,43.98 160.41,44.08 160.02,44.2 159.64,44.33 159.28,44.47 158.93,44.63 158.6,44.8 158.27,44.98 157.93,45.19 157.6,45.41 157.28,45.64 156.97,45.89 156.7,46.16 156.47,46.43 156.29,46.71 156.16,47 156.1,47.3 156.11,47.61 156.17,47.94 156.29,48.29 156.46,48.65 156.66,49.02 156.9,49.39 157.17,49.76 157.47,50.12 157.78,50.47 158.1,50.8 158.45,51.13 158.83,51.47 159.25,51.82 159.7,52.16 160.16,52.49 160.64,52.8 161.13,53.1 161.63,53.37 162.12,53.6 162.6,53.8 163.08,53.96 163.58,54.1 164.09,54.21 164.61,54.3 165.13,54.36 165.65,54.4 166.16,54.41 166.66,54.4 167.14,54.36 167.6,54.3 168.04,54.2 168.46,54.04 168.87,53.85 169.27,53.63 169.66,53.39 170.05,53.15 170.43,52.91 170.82,52.68 171.2,52.47 171.6,52.3 172,52.15 172.41,52.01 172.82,51.88 173.22,51.76 173.63,51.64 174.04,51.54 174.44,51.46 174.83,51.39 175.22,51.33 175.6,51.3 175.97,51.29 176.32,51.31 176.67,51.35 177.01,51.41 177.35,51.48 177.69,51.56 178.03,51.63 178.38,51.7 178.73,51.76 179.1,51.8 179.5,51.83 179.93,51.85 180.39,51.86 180.86,51.87 181.32,51.88 181.76,51.89 182.18,51.89 182.55,51.89 182.86,51.9 183.1,51.9" fill="none" stroke="#111" stroke-width="0.75" stroke-linejoin="round" stroke-linecap="round"/>
<text x="208.3" y="21.04" font-size="5.9" text-anchor="middle" fill="#222" font-weight="bold">(C)</text>
<text x="208.3" y="27.34" font-size="5.9" text-anchor="middle" fill="#222" font-weight="bold">Chaining</text>
<circle cx="208.3" cy="51.3" r="20.8" fill="none" stroke="#c4c4c4" stroke-width="0.7"/>
<line x1="187.5" y1="51.3" x2="229.1" y2="51.3" stroke="#e2e2e2" stroke-width="0.6"/>
<line x1="208.3" y1="30.5" x2="208.3" y2="72.1" stroke="#e2e2e2" stroke-width="0.6"/>
<circle cx="208.3" cy="51.3" r="10" fill="none" stroke="#c8c8c8" stroke-width="3"/>
<circle cx="200.4" cy="44.6" r="2.1" fill="#ee1c24" stroke="none" stroke-width="1"/>
<polyline points="196.66,42.89 196.88,42.6 197.12,42.3 197.36,42.02 197.62,41.74 197.88,41.46 198.16,41.19 198.44,40.93 198.72,40.67 199.02,40.41 199.32,40.17 199.63,39.93 199.94,39.69 200.25,39.47 200.57,39.25 200.9,39.04 201.22,38.84 201.55,38.65 201.89,38.47 202.22,38.29 202.56,38.13 202.89,37.99 203.23,37.85 203.57,37.73 203.92,37.62 204.26,37.52 204.6,37.44 204.95,37.37 205.3,37.31 205.65,37.27 206,37.24 206.35,37.22 206.7,37.22 207.06,37.23 207.41,37.26 207.77,37.3 208.12,37.36 208.48,37.42 208.83,37.5 209.19,37.6 209.54,37.7 209.9,37.82 210.25,37.95 210.6,38.08 210.96,38.23 211.31,38.38 211.65,38.54 212,38.71 212.34,38.89 212.68,39.07 213.02,39.26 213.35,39.45 213.68,39.65 214.01,39.86 214.33,40.07 214.64,40.29 214.95,40.52 215.25,40.75 215.55,40.98 215.84,41.22 216.12,41.47 216.39,41.73 216.65,41.99 216.9,42.26 217.14,42.54 217.37,42.82 217.6,43.11 217.81,43.4 218.01,43.71 218.2,44.01 218.39,44.33 218.56,44.65 218.73,44.97 218.89,45.31 219.03,45.64 219.17,45.99 219.3,46.34 219.42,46.69 219.52,47.05 219.62,47.42 219.71,47.79 219.78,48.16 219.84,48.54 219.89,48.92 219.92,49.3 219.94,49.68 219.95,50.06 219.94,50.44 219.92,50.82 219.89,51.2 219.83,51.57 219.77,51.94 219.69,52.31 219.6,52.68 219.5,53.04 219.39,53.39 219.26,53.74 219.12,54.09 218.97,54.43 218.81,54.76 218.64,55.08 218.46,55.4 218.26,55.71 218.06,56.01 217.84,56.3 217.62,56.58 217.39,56.86 217.16,57.12 216.92,57.38 216.67,57.62 216.42,57.86 216.15,58.09 215.89,58.31 215.62,58.51 215.34,58.72 215.06,58.91 214.77,59.09 214.49,59.27 214.2,59.44 213.91,59.6 213.62,59.75 213.32,59.9 213.03,60.04 212.73,60.18 212.43,60.3 212.13,60.42 211.83,60.54 211.52,60.64 211.21,60.73 210.89,60.82 210.57,60.89 210.25,60.96 209.92,61.01 209.58,61.05 209.24,61.08 208.9,61.1 208.55,61.1 208.19,61.09 207.84,61.07 207.47,61.04 207.11,61 206.75,60.94 206.38,60.88 206.01,60.8 205.65,60.71 205.28,60.61 204.92,60.5 204.56,60.38 204.21,60.24 203.86,60.1 203.51,59.95 203.17,59.78 202.84,59.6 202.51,59.42 202.2,59.22 201.89,59.02 201.59,58.8 201.3,58.58 201.02,58.35 200.75,58.12 200.49,57.88 200.24,57.63 200,57.38 199.77,57.13 199.55,56.87 199.34,56.61 199.14,56.35 198.95,56.08 198.78,55.81 198.61,55.54 198.45,55.27 198.3,54.99 198.16,54.7 198.03,54.42 197.9,54.13 197.79,53.84 197.69,53.54 197.59,53.24 197.51,52.93 197.43,52.62 197.36,52.31 197.3,52 197.25,51.68 197.21,51.36 197.18,51.04 197.15,50.72 197.13,50.39 197.12,50.07 197.12,49.74 197.12,49.42 197.13,49.09 197.14,48.77 197.16,48.44 197.19,48.12 197.22,47.8 197.25,47.48 197.29,47.15 197.32,46.84 197.36,46.52 197.41,46.2 197.45,45.89 197.51,45.58 197.56,45.27 197.63,44.96 197.7,44.66 197.79,44.36 197.87,44.06 197.97,43.77 198.08,43.48 198.19,43.19 198.32,42.91 198.45,42.63 198.59,42.36 198.74,42.09 198.91,41.82 199.08,41.56 199.26,41.31 199.46,41.06 199.66,40.81 199.87,40.58 200.1,40.35 200.33,40.13 200.58,39.92 200.83,39.72 201.09,39.53 201.37,39.35 201.65,39.19 201.94,39.03 202.24,38.88 202.55,38.75 202.86,38.63 203.18,38.52 203.51,38.42 203.84,38.33 204.18,38.26 204.52,38.19 204.86,38.13 205.21,38.09 205.56,38.05 205.91,38.02 206.26,38 206.6,37.99 206.95,37.99 207.3,37.99 207.65,38.01 207.99,38.04 208.33,38.07 208.67,38.12 209,38.17 209.33,38.23 209.65,38.3 209.96,38.38 210.27,38.47 210.57,38.57 210.87,38.69 211.16,38.81 211.44,38.94 211.71,39.08 211.98,39.23 212.23,39.4 212.49,39.57 212.73,39.76 212.97,39.95 213.2,40.15 213.42,40.37 213.64,40.59 213.85,40.82 214.05,41.05 214.24,41.3 214.43,41.55 214.61,41.81 214.79,42.07 214.96,42.33 215.13,42.61 215.29,42.88 215.45,43.16 215.61,43.44 215.76,43.72 215.9,44.01 216.04,44.3 216.17,44.59 216.3,44.89 216.42,45.18 216.54,45.48 216.65,45.78 216.75,46.08 216.84,46.38 216.93,46.68 217.02,46.99 217.09,47.29 217.16,47.59 217.23,47.9 217.28,48.21 217.33,48.52 217.37,48.83 217.41,49.14 217.44,49.46 217.46,49.77 217.47,50.09 217.47,50.41 217.47,50.72 217.45,51.04 217.43,51.36 217.41,51.67 217.37,51.99 217.33,52.3 217.27,52.61 217.21,52.92 217.14,53.22 217.05,53.51 216.96,53.8 216.86,54.09 216.74,54.37 216.61,54.64 216.47,54.91 216.32,55.16 216.16,55.41 215.99,55.65 215.81,55.88 215.62,56.1 215.42,56.32 215.21,56.52 215,56.71 214.78,56.88 214.55,57.05 214.32,57.2 214.09,57.35 213.85,57.48 213.6,57.6 213.35,57.71 213.1,57.8 212.85,57.89 212.59,57.96 212.33,58.02 212.06,58.07 211.79,58.12 211.52,58.15 211.24,58.18 210.96,58.19 210.68,58.21 210.39,58.21 210.1,58.21 209.81,58.21 209.51,58.2 209.21,58.18 208.91,58.17 208.6,58.14 208.29,58.12 207.99,58.09 207.67,58.06 207.36,58.02 207.05,57.98 206.73,57.94 206.42,57.89 206.1,57.84 205.78,57.79 205.46,57.73 205.15,57.67 204.83,57.61 204.52,57.54 204.2,57.47 203.89,57.39 203.58,57.31 203.28,57.22 202.97,57.13 202.67,57.03 202.38,56.92 202.08,56.81 201.8,56.69 201.51,56.56 201.24,56.42 200.96,56.27 200.7,56.11 200.44,55.95 200.18,55.78 199.94,55.6 199.7,55.42 199.47,55.22 199.26,55.02 199.05,54.82 198.86,54.6 198.68,54.38 198.51,54.15 198.36,53.92 198.22,53.68 198.1,53.43 197.99,53.18 197.9,52.92 197.82,52.66 197.76,52.4 197.72,52.13 197.69,51.85 197.68,51.58 197.67,51.3 197.69,51.02 197.71,50.74 197.74,50.45 197.79,50.17 197.84,49.89 197.89,49.61 197.96,49.33 198.02,49.05 198.09,48.77 198.16,48.5 198.24,48.23 198.31,47.96 198.38,47.69 198.46,47.43 198.53,47.17 198.61,46.92 198.68,46.66 198.76,46.41 198.83,46.16 198.91,45.92 198.99,45.67 199.08,45.43 199.17,45.19 199.26,44.94 199.36,44.7 199.47,44.46 199.58,44.22 199.7,43.98 199.83,43.74 199.97,43.5 200.12,43.26 200.28,43.02 200.44,42.78 200.62,42.54 200.81,42.3 201.01,42.07 201.22,41.83 201.43,41.6 201.66,41.38 201.9,41.16 202.14,40.94 202.38,40.74 202.64,40.54 202.89,40.35 203.16,40.18 203.42,40.01 203.69,39.86 203.96,39.72 204.23,39.59 204.51,39.48 204.78,39.39 205.06,39.31 205.33,39.24 205.61,39.19 205.89,39.15 206.17,39.12 206.46,39.11 206.74,39.11 207.03,39.13 207.32,39.15 207.61,39.19 207.9,39.23 208.2,39.29 208.5,39.36 208.8,39.43 209.1,39.51 209.41,39.59 209.71,39.68 210.02,39.78 210.33,39.88 210.63,39.99 210.93,40.1 211.23,40.22 211.53,40.35 211.82,40.48 212.1,40.62 212.38,40.77 212.65,40.92 212.91,41.08 213.16,41.24 213.4,41.41 213.63,41.6 213.85,41.78 214.07,41.98 214.27,42.18 214.46,42.4 214.64,42.62 214.81,42.84 214.97,43.08 215.12,43.32 215.26,43.57 215.4,43.83 215.53,44.09 215.65,44.36 215.77,44.63 215.88,44.91 215.99,45.18 216.09,45.46 216.19,45.75 216.28,46.03 216.37,46.31 216.45,46.6 216.52,46.88 216.58,47.16 216.64,47.45 216.69,47.73 216.74,48 216.78,48.28 216.81,48.55 216.83,48.82 216.84,49.09 216.85,49.36 216.84,49.62 216.83,49.88 216.8,50.14 216.76,50.39 216.71,50.64 216.65,50.9 216.58,51.14 216.5,51.39 216.42,51.64 216.32,51.88 216.22,52.12 216.1,52.36 215.98,52.6 215.86,52.84 215.73,53.07 215.59,53.31 215.45,53.54 215.3,53.77 215.15,54 215,54.22 214.84,54.44 214.68,54.65 214.52,54.86 214.36,55.07 214.19,55.27 214.02,55.47 213.84,55.66 213.67,55.85 213.49,56.03 213.31,56.21 213.12,56.38 212.94,56.54 212.74,56.7 212.55,56.84 212.35,56.98 212.15,57.11 211.94,57.24 211.73,57.35 211.51,57.46 211.29,57.57 211.06,57.66 210.83,57.75 210.59,57.83 210.35,57.91 210.1,57.97 209.85,58.03 209.59,58.08 209.33,58.13 209.07,58.16 208.8,58.19 208.53,58.2 208.26,58.21 207.98,58.21 207.7,58.2 207.43,58.18 207.15,58.15 206.87,58.11 206.59,58.06 206.31,58 206.03,57.94 205.75,57.87 205.48,57.79 205.2,57.7 204.93,57.61 204.65,57.5 204.38,57.4 204.11,57.28 203.84,57.16 203.58,57.03 203.32,56.89 203.05,56.74 202.8,56.59 202.54,56.43 202.29,56.26 202.04,56.09 201.79,55.91 201.55,55.72 201.32,55.53 201.08,55.33 200.86,55.13 200.64,54.92 200.42,54.71 200.22,54.49 200.01,54.27 199.82,54.04 199.63,53.81 199.45,53.57 199.28,53.34 199.12,53.1 198.97,52.86 198.83,52.61 198.7,52.37 198.59,52.12 198.48,51.88 198.39,51.63 198.3,51.38 198.22,51.14 198.16,50.89 198.1,50.64 198.05,50.39 198.01,50.14 197.99,49.89 197.97,49.65 197.97,49.4 197.97,49.15 197.98,48.9 198,48.65 198.03,48.4 198.06,48.15 198.1,47.9 198.15,47.65 198.2,47.4 198.26,47.15 198.33,46.91 198.4,46.66 198.48,46.42 198.56,46.18 198.65,45.94 198.74,45.71 198.84,45.48 198.94,45.25 199.05,45.03 199.17,44.81 199.3,44.59 199.43,44.38 199.57,44.17 199.72,43.97 199.88,43.77 200.04,43.58 200.22,43.39 200.41,43.21 200.61,43.03 200.82,42.86 201.04,42.7 201.28,42.54 201.52,42.39 201.77,42.24 202.03,42.1 202.31,41.97 202.59,41.85 202.87,41.74 203.17,41.63 203.47,41.53 203.78,41.44 204.09,41.35 204.4,41.27 204.72,41.2 205.04,41.13 205.36,41.07 205.69,41.02 206.01,40.97 206.33,40.93 206.65,40.89 206.96,40.87 207.28,40.85 207.58,40.84 207.88,40.84 208.18,40.84 208.47,40.86 208.76,40.88 209.04,40.92 209.31,40.96 209.58,41.02 209.84,41.08 210.1,41.16 210.35,41.24 210.59,41.33 210.83,41.43 211.07,41.54 211.3,41.65 211.53,41.77 211.75,41.9 211.97,42.04 212.19,42.18 212.4,42.32 212.6,42.48 212.8,42.64 212.99,42.8 213.18,42.97 213.36,43.15 213.54,43.33 213.71,43.52 213.88,43.71 214.05,43.91 214.21,44.11 214.36,44.32 214.52,44.54 214.66,44.76 214.8,44.98 214.94,45.21 215.06,45.44 215.19,45.68 215.3,45.91 215.41,46.16 215.41,46.16 215.59,46.26 215.79,46.39 216.04,46.54 216.33,46.71 216.65,46.91 217.03,47.13 217.44,47.38 217.91,47.66 218.46,47.98 219.11,48.37 219.83,48.8 220.57,49.24 221.33,49.68 222.05,50.1 222.72,50.48 223.3,50.8 223.79,51.05 224.23,51.26 224.62,51.44 224.98,51.59 225.32,51.72 225.64,51.85 225.97,51.97 226.3,52.1 226.65,52.24 227.02,52.37 227.38,52.51 227.74,52.63 228.07,52.75 228.36,52.85 228.61,52.93 228.8,53" fill="none" stroke="#111" stroke-width="0.75" stroke-linejoin="round" stroke-linecap="round"/>
<text x="71.6" y="89.44" font-size="5.9" text-anchor="middle" fill="#222" font-weight="bold">(DSe)</text>
<text x="71.6" y="95.74" font-size="5.9" text-anchor="middle" fill="#222" font-weight="bold">Directed Search</text>
<circle cx="71.6" cy="119.7" r="20.8" fill="none" stroke="#c4c4c4" stroke-width="0.7"/>
<line x1="50.8" y1="119.7" x2="92.4" y2="119.7" stroke="#e2e2e2" stroke-width="0.6"/>
<line x1="71.6" y1="98.9" x2="71.6" y2="140.5" stroke="#e2e2e2" stroke-width="0.6"/>
<circle cx="71.6" cy="119.7" r="10" fill="none" stroke="#c8c8c8" stroke-width="3"/>
<circle cx="63.7" cy="113" r="2.1" fill="#ee1c24" stroke="none" stroke-width="1"/>
<polyline points="63.1,115.2 65.6,116.1 68.6,115.9 71.6,116.2 74.6,116.5 76.6,117.1 78.1,118.2 77.1,119.2 78.4,120 80.6,119.9 81.6,119.2 80.1,118.5 82.1,118.7 84.6,118.5 87.6,118.7 91.1,118.5" fill="none" stroke="#111" stroke-width="0.75" stroke-linejoin="round" stroke-linecap="round"/>
<text x="117" y="89.44" font-size="5.9" text-anchor="middle" fill="#222" font-weight="bold">(FS)</text>
<text x="117" y="95.74" font-size="5.9" text-anchor="middle" fill="#222" font-weight="bold">Focal Search</text>
<circle cx="117" cy="119.7" r="20.8" fill="none" stroke="#c4c4c4" stroke-width="0.7"/>
<line x1="96.2" y1="119.7" x2="137.8" y2="119.7" stroke="#e2e2e2" stroke-width="0.6"/>
<line x1="117" y1="98.9" x2="117" y2="140.5" stroke="#e2e2e2" stroke-width="0.6"/>
<circle cx="117" cy="119.7" r="10" fill="none" stroke="#c8c8c8" stroke-width="3"/>
<circle cx="109.1" cy="113" r="2.1" fill="#ee1c24" stroke="none" stroke-width="1"/>
<polyline points="109,115.2 112.45,114.4 112.09,114.77 111.67,115.15 111.22,115.51 110.76,115.86 110.32,116.16 109.91,116.44 109.55,116.68 109.26,116.85 109.03,116.95 108.88,116.99 108.8,117 108.75,116.97 108.74,116.87 108.77,116.71 108.84,116.48 108.95,116.19 109.1,115.84 109.27,115.47 109.48,115.09 109.74,114.73 110.03,114.42 110.33,114.19 110.62,114.07 110.88,114.05 111.1,114.11 111.24,114.28 111.33,114.52 111.36,114.81 111.34,115.12 111.26,115.46 111.13,115.79 110.97,116.1 110.78,116.39 110.57,116.63 110.33,116.83 110.06,116.95 109.76,116.97 109.46,116.88 109.17,116.68 108.92,116.38 108.74,115.97 108.68,115.49 108.72,114.96 108.85,114.42 109.07,113.88 109.36,113.38 109.73,112.92 110.17,112.52 110.66,112.17 111.18,111.89 111.7,111.69 112.19,111.58 112.63,111.54 113,111.56 113.29,111.64 113.51,111.79 113.65,111.99 113.71,112.24 113.68,112.54 113.56,112.88 113.35,113.23 113.05,113.57 112.68,113.89 112.26,114.17 111.83,114.42 111.41,114.62 111,114.78 110.64,114.89 110.31,114.97 110.03,115 109.78,114.97 109.57,114.87 109.42,114.7 109.34,114.45 109.35,114.14 109.45,113.78 109.6,113.42 109.8,113.06 110.04,112.75 110.32,112.49 110.61,112.29 110.93,112.16 111.27,112.12 111.61,112.19 111.91,112.4 112.16,112.72 112.36,113.15 112.48,113.65 112.51,114.19 112.49,114.75 112.42,115.28 112.3,115.75 112.16,116.15 111.98,116.47 111.77,116.69 111.52,116.83 111.23,116.88 110.92,116.84 110.63,116.71 110.39,116.49 110.21,116.19 110.11,115.82 110.1,115.43 110.15,115.03 110.27,114.66 110.47,114.36 110.73,114.13 111.03,114.01 111.31,113.99 111.58,114.07 111.79,114.24 111.95,114.5 112.07,114.81 112.14,115.13 112.19,115.45 112.22,115.78 112.24,116.12 112.25,116.47 112.26,116.82 113,117.5 116,118.1 120,118.9 124,119.5 128,120 132,120.4 137,120.7" fill="none" stroke="#111" stroke-width="0.75" stroke-linejoin="round" stroke-linecap="round"/>
<text x="162.6" y="89.44" font-size="5.9" text-anchor="middle" fill="#222" font-weight="bold">(DSw)</text>
<text x="162.6" y="95.74" font-size="5.9" text-anchor="middle" fill="#222" font-weight="bold">Direct Swim</text>
<circle cx="162.6" cy="119.7" r="20.8" fill="none" stroke="#c4c4c4" stroke-width="0.7"/>
<line x1="141.8" y1="119.7" x2="183.4" y2="119.7" stroke="#e2e2e2" stroke-width="0.6"/>
<line x1="162.6" y1="98.9" x2="162.6" y2="140.5" stroke="#e2e2e2" stroke-width="0.6"/>
<circle cx="162.6" cy="119.7" r="10" fill="none" stroke="#c8c8c8" stroke-width="3"/>
<circle cx="154.7" cy="113" r="2.1" fill="#ee1c24" stroke="none" stroke-width="1"/>
<polyline points="155.1,113.7 157.6,114.9 160.6,116.2 162.6,116.9 164.6,117.7 166.6,118.7 168.6,120.2 170.6,120.3 173.6,120.3 176.6,120.5 182.1,120.5" fill="none" stroke="#111" stroke-width="0.75" stroke-linejoin="round" stroke-linecap="round"/>
<text x="208.3" y="89.44" font-size="5.9" text-anchor="middle" fill="#222" font-weight="bold">(P)</text>
<text x="208.3" y="95.74" font-size="5.9" text-anchor="middle" fill="#222" font-weight="bold">Perseverance</text>
<circle cx="208.3" cy="119.7" r="20.8" fill="none" stroke="#c4c4c4" stroke-width="0.7"/>
<line x1="187.5" y1="119.7" x2="229.1" y2="119.7" stroke="#e2e2e2" stroke-width="0.6"/>
<line x1="208.3" y1="98.9" x2="208.3" y2="140.5" stroke="#e2e2e2" stroke-width="0.6"/>
<circle cx="208.3" cy="119.7" r="10" fill="none" stroke="#c8c8c8" stroke-width="3"/>
<circle cx="200.4" cy="113" r="2.1" fill="#ee1c24" stroke="none" stroke-width="1"/>
<polyline points="227.6,117.2 227.43,117.26 227.2,117.32 226.93,117.4 226.62,117.48 226.3,117.58 225.97,117.69 225.64,117.8 225.33,117.93 225.04,118.06 224.8,118.2 224.6,118.34 224.42,118.48 224.27,118.63 224.13,118.78 223.99,118.94 223.86,119.12 223.72,119.32 223.57,119.55 223.4,119.8 223.2,120.1 222.98,120.44 222.75,120.82 222.52,121.23 222.27,121.67 222.01,122.12 221.74,122.6 221.45,123.08 221.15,123.56 220.84,124.04 220.5,124.5 220.14,124.97 219.74,125.48 219.31,126 218.87,126.54 218.42,127.06 217.97,127.57 217.52,128.05 217.09,128.49 216.68,128.88 216.3,129.2 215.95,129.46 215.62,129.66 215.31,129.82 215.01,129.94 214.73,130.03 214.44,130.09 214.16,130.13 213.88,130.16 213.59,130.18 213.3,130.2 212.99,130.23 212.66,130.25 212.32,130.28 211.97,130.28 211.64,130.27 211.31,130.24 211.01,130.17 210.73,130.06 210.49,129.91 210.3,129.7 210.16,129.39 210.07,128.97 210.02,128.46 209.99,127.9 209.99,127.32 210,126.77 210,126.28 210,125.89 209.97,125.62 209.92,125.52 209.84,125.59 209.77,125.82 209.7,126.16 209.61,126.6 209.52,127.1 209.42,127.63 209.3,128.17 209.16,128.7 209,129.17 208.81,129.57 208.55,129.93 208.22,130.29 207.83,130.66 207.41,131.02 206.99,131.36 206.6,131.67 206.26,131.96 206.01,132.2 205.85,132.4 205.84,132.54 205.97,132.62 206.23,132.65 206.59,132.64 207.04,132.59 207.54,132.51 208.06,132.4 208.59,132.26 209.1,132.09 209.57,131.91 209.96,131.72 210.31,131.51 210.66,131.26 211,130.99 211.34,130.69 211.66,130.37 211.95,130.04 212.21,129.69 212.44,129.33 212.63,128.97 212.77,128.6 212.86,128.21 212.93,127.76 212.96,127.28 212.96,126.78 212.92,126.28 212.85,125.8 212.74,125.36 212.6,124.98 212.42,124.66 212.2,124.44 211.93,124.32 211.6,124.28 211.22,124.31 210.8,124.4 210.36,124.52 209.89,124.67 209.42,124.83 208.95,124.97 208.5,125.1 208.07,125.19 207.63,125.27 207.18,125.37 206.7,125.5 206.22,125.62 205.75,125.73 205.3,125.82 204.88,125.87 204.49,125.87 204.16,125.81 203.89,125.67 203.7,125.4 203.56,125 203.48,124.5 203.44,123.94 203.43,123.35 203.43,122.79 203.45,122.28 203.46,121.87 203.45,121.6 203.42,121.5 203.35,121.59 203.25,121.83 203.13,122.2 203.01,122.67 202.89,123.19 202.8,123.75 202.74,124.31 202.73,124.83 202.77,125.3 202.89,125.66 203.1,125.98 203.41,126.31 203.79,126.63 204.21,126.93 204.66,127.2 205.12,127.43 205.56,127.61 205.97,127.72 206.31,127.75 206.57,127.69 206.74,127.5 206.84,127.15 206.88,126.68 206.89,126.14 206.88,125.56 206.86,124.99 206.86,124.46 206.89,124.02 206.97,123.69 207.11,123.53 207.36,123.54 207.69,123.69 208.09,123.95 208.53,124.29 208.98,124.67 209.4,125.08 209.77,125.48 210.05,125.84 210.22,126.13 210.25,126.32 210.11,126.41 209.82,126.42 209.42,126.37 208.93,126.28 208.38,126.18 207.82,126.08 207.28,126.02 206.78,126 206.36,126.06 206.05,126.2 205.86,126.45 205.74,126.78 205.69,127.18 205.68,127.62 205.69,128.1 205.71,128.59 205.71,129.08 205.69,129.55 205.61,129.98 205.47,130.36 205.23,130.71 204.89,131.06 204.5,131.4 204.07,131.72 203.63,132.03 203.22,132.33 202.85,132.59 202.58,132.83 202.41,133.04 202.39,133.22 202.52,133.36 202.79,133.49 203.17,133.6 203.63,133.68 204.14,133.74 204.68,133.76 205.23,133.75 205.74,133.7 206.2,133.61 206.58,133.47 206.88,133.27 207.15,133 207.39,132.67 207.6,132.3 207.81,131.9 208.01,131.49 208.21,131.08 208.43,130.68 208.67,130.32 208.94,130 209.26,129.68 209.62,129.34 210.01,128.98 210.42,128.64 210.82,128.31 211.22,128.02 211.58,127.78 211.91,127.62 212.18,127.55 212.38,127.58 212.52,127.74 212.62,128.05 212.7,128.47 212.73,128.96 212.73,129.49 212.69,130.05 212.61,130.58 212.49,131.07 212.33,131.47 212.13,131.77 211.87,131.96 211.54,132.07 211.15,132.13 210.72,132.15 210.26,132.14 209.78,132.11 209.3,132.09 208.82,132.08 208.37,132.11 207.95,132.19 207.55,132.33 207.14,132.52 206.74,132.76 206.34,133.01 205.94,133.26 205.55,133.49 205.17,133.69 204.8,133.83 204.45,133.9 204.1,133.88 203.78,133.74 203.48,133.47 203.18,133.12 202.91,132.7 202.63,132.26 202.37,131.82 202.1,131.42 201.83,131.1 201.55,130.87 201.27,130.79 200.94,130.84 200.56,131.01 200.16,131.27 199.74,131.6 199.33,131.97 198.96,132.37 198.65,132.76 198.41,133.13 198.27,133.46 198.25,133.71 198.37,133.92 198.6,134.13 198.93,134.32 199.34,134.5 199.81,134.66 200.31,134.8 200.82,134.91 201.33,134.99 201.8,135.04 202.23,135.06 202.63,135.03 203.02,134.94 203.41,134.82 203.81,134.66 204.2,134.48 204.59,134.29 204.99,134.1 205.38,133.92 205.78,133.76 206.18,133.63 206.6,133.53 207.05,133.47 207.51,133.42 207.97,133.39 208.43,133.36 208.88,133.31 209.3,133.23 209.68,133.12 210.01,132.96 210.29,132.75 210.5,132.47 210.66,132.13 210.78,131.75 210.87,131.33 210.92,130.89 210.95,130.43 210.97,129.96 210.99,129.5 211.01,129.05 211.04,128.62 211.1,128.18 211.16,127.7 211.24,127.21 211.31,126.71 211.37,126.22 211.41,125.75 211.4,125.32 211.36,124.95 211.26,124.64 211.09,124.42 210.82,124.27 210.45,124.18 210,124.14 209.5,124.16 208.97,124.22 208.45,124.32 207.96,124.46 207.53,124.63 207.18,124.84 206.94,125.07 206.82,125.34 206.8,125.68 206.85,126.06 206.97,126.49 207.11,126.94 207.27,127.41 207.42,127.88 207.53,128.35 207.59,128.8 207.58,129.22 207.49,129.64 207.33,130.12 207.12,130.62 206.88,131.13 206.63,131.62 206.39,132.07 206.17,132.46 205.99,132.76 205.87,132.96 205.83,133.03 205.87,132.95 205.94,132.73 206.06,132.39 206.22,131.97 206.41,131.49 206.63,130.98 206.87,130.47 207.13,130 207.41,129.59 207.69,129.27 208.03,129.02 208.45,128.83 208.93,128.67 209.44,128.53 209.96,128.41 210.44,128.29 210.88,128.17 211.23,128.04 211.48,127.88 211.58,127.69 211.55,127.47 211.4,127.22 211.15,126.95 210.82,126.67 210.43,126.38 210.01,126.1 209.56,125.81 209.12,125.54 208.69,125.29 208.31,125.06 207.95,124.85 207.58,124.63 207.2,124.42 206.82,124.21 206.43,124.02 206.04,123.85 205.64,123.69 205.25,123.57 204.85,123.47 204.45,123.41 204.03,123.38 203.58,123.37 203.12,123.38 202.65,123.42 202.18,123.48 201.73,123.57 201.31,123.69 200.93,123.85 200.6,124.04 200.34,124.27 200.15,124.58 200.05,124.99 200.02,125.48 200.02,126 200.05,126.54 200.08,127.06 200.1,127.54 200.07,127.95 199.99,128.26 199.83,128.44 199.56,128.49 199.18,128.43 198.74,128.29 198.26,128.09 197.76,127.83 197.29,127.54 196.86,127.23 196.51,126.92 196.27,126.62 196.17,126.37 196.22,126.11 196.37,125.82 196.62,125.5 196.95,125.17 197.33,124.85 197.75,124.54 198.19,124.26 198.64,124.03 199.06,123.85 199.45,123.74 199.83,123.7 200.22,123.71 200.63,123.77 201.05,123.87 201.47,124.01 201.89,124.17 202.31,124.35 202.71,124.54 203.1,124.75 203.47,124.95 203.83,125.19 204.17,125.51 204.51,125.87 204.85,126.26 205.17,126.65 205.48,127.01 205.78,127.33 206.07,127.57 206.35,127.72 206.61,127.74 206.88,127.62 207.18,127.38 207.49,127.04 207.78,126.62 208.06,126.16 208.3,125.68 208.5,125.2 208.62,124.75 208.67,124.36 208.63,124.06 208.46,123.82 208.15,123.6 207.75,123.42 207.29,123.26 206.78,123.12 206.26,122.99 205.76,122.89 205.31,122.8 204.93,122.71 204.67,122.64" fill="none" stroke="#111" stroke-width="0.75" stroke-linejoin="round" stroke-linecap="round"/>
<polyline points="89.75,45.69 89.52,46.01 89.17,46.45 88.74,46.97 88.3,47.55 87.88,48.16 87.53,48.76 87.31,49.33 87.26,49.85 87.45,50.32 87.86,50.79 88.42,51.25 89.04,51.7 89.65,52.13 90.17,52.53 90.52,52.9 90.63,53.23 90.44,53.5 89.99,53.69 89.38,53.83 88.68,53.96 87.97,54.1 87.34,54.27 86.87,54.5 86.64,54.83 86.72,55.29 87.04,55.87 87.52,56.52 88.08,57.2 88.63,57.87 89.07,58.48 89.33,58.99 89.3,59.34 88.94,59.5 88.28,59.49 87.44,59.37 86.49,59.19 85.54,59.01 84.67,58.9 83.99,58.9 83.58,59.07 83.5,59.47 83.68,60.05 84.04,60.75 84.48,61.5 84.94,62.26 85.31,62.95 85.52,63.52 85.49,63.9 85.17,64.04 84.62,64 83.92,63.83 83.13,63.6 82.34,63.37 81.6,63.2 80.99,63.16 80.58,63.32 80.4,63.73 80.4,64.36 80.51,65.12 80.69,65.95 80.88,66.76 81.01,67.47 81.05,68.02 80.91,68.31 80.61,68.3 80.17,68.02 79.64,67.56 79.06,67.01 78.46,66.46 77.87,65.99 77.34,65.7 76.9,65.66 76.53,65.93 76.19,66.42 75.88,67.08 75.59,67.82 75.34,68.59 75.12,69.3 74.94,69.9 74.79,70.31" fill="none" stroke="#111" stroke-width="0.75" stroke-linejoin="round" stroke-linecap="round"/>
<polyline points="217.53,51.8 217.51,52.02 217.49,52.24 217.46,52.46 217.43,52.68 217.41,52.89 217.38,53.11 217.34,53.33 217.31,53.56 217.27,53.78 217.23,54 217.18,54.23 217.12,54.46 217.06,54.68 216.99,54.91 216.91,55.14 216.82,55.36 216.72,55.58 216.6,55.8 216.48,56.02 216.34,56.23 216.2,56.43 216.04,56.63 215.88,56.83 215.7,57.01 215.51,57.19 215.31,57.36 215.1,57.52 214.89,57.66 214.66,57.8 214.43,57.92 214.19,58.03 213.94,58.13 213.69,58.21 213.43,58.29 213.17,58.34 212.91,58.39 212.65,58.42 212.38,58.45 212.12,58.46 211.85,58.46 211.59,58.45 211.33,58.44 211.07,58.41 210.81,58.38 210.56,58.34 210.3,58.3 210.05,58.25 209.8,58.19 209.55,58.13 209.3,58.06 209.06,57.99 208.82,57.91 208.58,57.82 208.34,57.73 208.1,57.63 207.87,57.52 207.63,57.41 207.41,57.3 207.18,57.17 206.96,57.03 206.76,56.88 206.55,56.72 206.36,56.55 206.18,56.37 206.01,56.18 205.85,55.99 205.7,55.78 205.56,55.58 205.43,55.36 205.31,55.14 205.2,54.92 205.1,54.69 205,54.46 204.91,54.23 204.83,54 204.76,53.77 204.7,53.53 204.65,53.3 204.6,53.06 204.56,52.82 204.53,52.58 204.5,52.34 204.49,52.1 204.48,51.86 204.48,51.61 204.5,51.37 204.52,51.13 204.55,50.89 204.6,50.65 204.65,50.42 204.72,50.19 204.8,49.96 204.89,49.73 204.99,49.51 205.1,49.3 205.22,49.09 205.35,48.89 205.49,48.69 205.63,48.49 205.78,48.3 205.93,48.12 206.08,47.93 206.24,47.75 206.4,47.57 206.56,47.4 206.73,47.23 206.91,47.06 207.09,46.9 207.27,46.74 207.46,46.58 207.66,46.43 207.86,46.29 208.07,46.16 208.29,46.03 208.51,45.91 208.73,45.8 208.97,45.7 209.2,45.61 209.45,45.54 209.69,45.47 209.94,45.42 210.2,45.38 210.45,45.36 210.7,45.34 210.96,45.34 211.21,45.35 211.47,45.36 211.72,45.39 211.97,45.42 212.21,45.47 212.46,45.52 212.7,45.57 212.94,45.64 213.18,45.71 213.42,45.78 213.65,45.87 213.88,45.96 214.1,46.06 214.32,46.17 214.54,46.29 214.75,46.41 214.96,46.54 215.16,46.67 215.36,46.81 215.55,46.96 215.74,47.11 215.93,47.27 216.11,47.43 216.29,47.59 216.46,47.76 216.63,47.94 216.79,48.12 216.95,48.31 217.1,48.5 217.25,48.7 217.39,48.9 217.53,49.11 217.66,49.32 217.78,49.53 217.9,49.75 218.01,49.98 218.12,50.21 218.22,50.44 218.3,50.68 218.38,50.93 218.45,51.17 218.51,51.43 218.56,51.68 218.6,51.94 218.63,52.2 218.64,52.46 218.63,52.72 218.61,52.99 218.57,53.25 218.52,53.51 218.45,53.76 218.36,54.01 218.25,54.25 218.13,54.49 217.99,54.72 217.84,54.94 217.67,55.15 217.49,55.34 217.3,55.53 217.1,55.71 216.89,55.87 216.68,56.03 216.46,56.17 216.23,56.31 216.01,56.43 215.78,56.55 215.55,56.66 215.32,56.76 215.09,56.86 214.86,56.96 214.64,57.05 214.42,57.14 214.2,57.23 213.98,57.32 213.76,57.41 213.54,57.5 213.32,57.59 213.1,57.68 212.87,57.76 212.64,57.84 212.41,57.91 212.17,57.98 211.93,58.04 211.69,58.09 211.44,58.13 211.19,58.16 210.94,58.17 210.69,58.16 210.44,58.14 210.19,58.11 209.95,58.06 209.71,58 209.47,57.92 209.24,57.84" fill="none" stroke="#111" stroke-width="0.75" stroke-linejoin="round" stroke-linecap="round"/>
<line x1="280.5" y1="48.83" x2="391" y2="48.83" stroke="#e4e4e4" stroke-width="0.6"/>
<line x1="396.2" y1="48.83" x2="505.5" y2="48.83" stroke="#e4e4e4" stroke-width="0.6"/>
<line x1="280.5" y1="63.87" x2="391" y2="63.87" stroke="#e4e4e4" stroke-width="0.6"/>
<line x1="396.2" y1="63.87" x2="505.5" y2="63.87" stroke="#e4e4e4" stroke-width="0.6"/>
<line x1="280.5" y1="78.9" x2="391" y2="78.9" stroke="#e4e4e4" stroke-width="0.6"/>
<line x1="396.2" y1="78.9" x2="505.5" y2="78.9" stroke="#e4e4e4" stroke-width="0.6"/>
<line x1="280.5" y1="93.93" x2="391" y2="93.93" stroke="#e4e4e4" stroke-width="0.6"/>
<line x1="396.2" y1="93.93" x2="505.5" y2="93.93" stroke="#e4e4e4" stroke-width="0.6"/>
<line x1="280.5" y1="108.97" x2="391" y2="108.97" stroke="#e4e4e4" stroke-width="0.6"/>
<line x1="396.2" y1="108.97" x2="505.5" y2="108.97" stroke="#e4e4e4" stroke-width="0.6"/>
<circle cx="296.4" cy="48.4" r="11.6" fill="#c9c9c9" stroke="none" stroke-width="1"/>
<circle cx="296.4" cy="48.4" r="7.66" fill="none" stroke="#dedede" stroke-width="0.5"/>
<line x1="284.8" y1="48.4" x2="308" y2="48.4" stroke="#dedede" stroke-width="0.5"/>
<line x1="296.4" y1="36.8" x2="296.4" y2="60" stroke="#dedede" stroke-width="0.5"/>
<circle cx="299.9" cy="44.3" r="1.3" fill="#111" stroke="none" stroke-width="1"/>
<rect x="312.3" y="35.72" width="78.7" height="1.75" fill="#ed7d31"/>
<rect x="368.6" y="41.31" width="22.4" height="1.75" fill="#70ad47"/>
<rect x="335" y="45.03" width="56" height="1.75" fill="#9e480e"/>
<rect x="379.8" y="50.62" width="11.2" height="1.75" fill="#ed7d31"/>
<rect x="357.3" y="52.48" width="33.7" height="1.75" fill="#a5a5a5"/>
<rect x="345.9" y="56.21" width="45.1" height="1.75" fill="#70ad47"/>
<rect x="357.3" y="59.93" width="33.7" height="1.75" fill="#9e480e"/>
<rect x="345.9" y="67.38" width="45.1" height="1.75" fill="#a5a5a5"/>
<rect x="334.8" y="71.11" width="56.2" height="1.75" fill="#70ad47"/>
<rect x="357.3" y="74.83" width="33.7" height="1.75" fill="#9e480e"/>
<rect x="357.3" y="82.28" width="33.7" height="1.75" fill="#a5a5a5"/>
<rect x="357.3" y="86.01" width="33.7" height="1.75" fill="#70ad47"/>
<rect x="323.7" y="89.73" width="67.3" height="1.75" fill="#9e480e"/>
<rect x="379.8" y="99.04" width="11.2" height="1.75" fill="#ffc000"/>
<rect x="357.3" y="100.91" width="33.7" height="1.75" fill="#70ad47"/>
<rect x="296" y="104.63" width="95" height="1.75" fill="#9e480e"/>
<rect x="379.8" y="113.94" width="11.2" height="1.75" fill="#ffc000"/>
<rect x="301.2" y="115.81" width="89.8" height="1.75" fill="#70ad47"/>
<rect x="345.9" y="119.53" width="45.1" height="1.75" fill="#9e480e"/>
<rect x="396.2" y="33.86" width="81.1" height="1.75" fill="#5b9bd5"/>
<rect x="396.2" y="35.72" width="32.1" height="1.75" fill="#ed7d31"/>
<rect x="396.2" y="39.44" width="15.8" height="1.75" fill="#ffc000"/>
<rect x="396.2" y="41.31" width="15.8" height="1.75" fill="#70ad47"/>
<rect x="396.2" y="48.76" width="15.8" height="1.75" fill="#5b9bd5"/>
<rect x="396.2" y="54.34" width="48.6" height="1.75" fill="#ffc000"/>
<rect x="396.2" y="56.21" width="81.1" height="1.75" fill="#70ad47"/>
<rect x="396.2" y="63.66" width="32.1" height="1.75" fill="#5b9bd5"/>
<rect x="396.2" y="67.38" width="15.8" height="1.75" fill="#a5a5a5"/>
<rect x="396.2" y="69.24" width="15.8" height="1.75" fill="#ffc000"/>
<rect x="396.2" y="71.11" width="64.8" height="1.75" fill="#70ad47"/>
<rect x="396.2" y="74.83" width="15.8" height="1.75" fill="#9e480e"/>
<rect x="396.2" y="78.56" width="32.1" height="1.75" fill="#5b9bd5"/>
<rect x="396.2" y="82.28" width="15.8" height="1.75" fill="#a5a5a5"/>
<rect x="396.2" y="86.01" width="32.1" height="1.75" fill="#70ad47"/>
<rect x="396.2" y="89.73" width="64.8" height="1.75" fill="#9e480e"/>
<rect x="396.2" y="99.04" width="32.1" height="1.75" fill="#ffc000"/>
<rect x="396.2" y="104.63" width="97.1" height="1.75" fill="#9e480e"/>
<rect x="396.2" y="113.94" width="15.8" height="1.75" fill="#ffc000"/>
<rect x="396.2" y="115.81" width="81.1" height="1.75" fill="#70ad47"/>
<rect x="396.2" y="119.53" width="48.6" height="1.75" fill="#9e480e"/>
<rect x="298.9" y="104" width="1.2" height="4" fill="#fff"/>
<rect x="487.1" y="104" width="1.3" height="4" fill="#fff"/>
<rect x="280.5" y="33.8" width="110.5" height="90.2" fill="none" stroke="#bcbcbc" stroke-width="0.7"/>
<rect x="396.2" y="33.8" width="109.3" height="90.2" fill="none" stroke="#bcbcbc" stroke-width="0.7"/>
<text x="393.8" y="44.48" font-size="7.2" text-anchor="middle" fill="#111" font-weight="bold">1</text>
<text x="393.8" y="59.08" font-size="7.2" text-anchor="middle" fill="#111" font-weight="bold">2</text>
<text x="393.8" y="73.48" font-size="7.2" text-anchor="middle" fill="#111" font-weight="bold">3</text>
<text x="393.8" y="88.78" font-size="7.2" text-anchor="middle" fill="#111" font-weight="bold">4</text>
<text x="393.8" y="103.08" font-size="7.2" text-anchor="middle" fill="#111" font-weight="bold">5</text>
<text x="393.8" y="117.38" font-size="7.2" text-anchor="middle" fill="#111" font-weight="bold">6</text>
<line x1="298.6" y1="123.7" x2="298.6" y2="125.2" stroke="#555" stroke-width="0.7"/>
<line x1="300.4" y1="123.7" x2="300.4" y2="125.2" stroke="#555" stroke-width="0.7"/>
<line x1="486.8" y1="123.7" x2="486.8" y2="125.2" stroke="#555" stroke-width="0.7"/>
<line x1="488.6" y1="123.7" x2="488.6" y2="125.2" stroke="#555" stroke-width="0.7"/>
<text x="282.6" y="131.48" font-size="7.2" text-anchor="middle" fill="#222">100%</text>
<text x="317.8" y="131.48" font-size="7.2" text-anchor="middle" fill="#222">50</text>
<text x="355.2" y="131.48" font-size="7.2" text-anchor="middle" fill="#222">25</text>
<text x="390.6" y="131.48" font-size="7.2" text-anchor="middle" fill="#222">0</text>
<text x="396.6" y="131.48" font-size="7.2" text-anchor="middle" fill="#222">0</text>
<text x="432.4" y="131.48" font-size="7.2" text-anchor="middle" fill="#222">25</text>
<text x="469.2" y="131.48" font-size="7.2" text-anchor="middle" fill="#222">50</text>
<text x="505.8" y="131.48" font-size="7.2" text-anchor="middle" fill="#222">100%</text>
<text x="338" y="32.26" font-size="10.6" text-anchor="middle" fill="#111" textLength="11.9" lengthAdjust="spacingAndGlyphs">B6</text>
<text x="454.6" y="32.26" font-size="10.6" text-anchor="middle" fill="#111" textLength="25.9" lengthAdjust="spacingAndGlyphs">BTBR</text>
<text x="394.5" y="13.88" font-size="12.4" text-anchor="middle" fill="#111">Visible Platform</text>
<text x="276.3" y="11.83" font-size="14" text-anchor="middle" fill="#000">B</text>
<text transform="translate(275,78) rotate(-90)" x="0" y="2.55" font-size="7.4" text-anchor="middle" fill="#222">TRIALS</text>
<rect x="353.2" y="134" width="38.1" height="8.1" fill="#a3d3d2"/>
<rect x="395.9" y="134" width="56.9" height="8.1" fill="#a3d3d2"/>
<rect x="296" y="143.1" width="95.3" height="8.7" fill="#f8bdab"/>
<rect x="395.9" y="143.1" width="81.9" height="8.7" fill="#f8bdab"/>
<rect x="298.8" y="143" width="1.2" height="9" fill="#fff"/>
<text x="354.8" y="140.6" font-size="7.4" text-anchor="start" fill="#333">26%</text>
<text x="302" y="150" font-size="7.4" text-anchor="start" fill="#333">74%</text>
<text x="450.6" y="140.6" font-size="7.4" text-anchor="end" fill="#333">41%</text>
<text x="476" y="150" font-size="7.4" text-anchor="end" fill="#333">59%</text>
<line x1="19.3" y1="224.5" x2="129.6" y2="224.5" stroke="#e4e4e4" stroke-width="0.6"/>
<line x1="135.4" y1="224.5" x2="245.5" y2="224.5" stroke="#e4e4e4" stroke-width="0.6"/>
<line x1="19.3" y1="246.6" x2="129.6" y2="246.6" stroke="#e4e4e4" stroke-width="0.6"/>
<line x1="135.4" y1="246.6" x2="245.5" y2="246.6" stroke="#e4e4e4" stroke-width="0.6"/>
<line x1="19.3" y1="268.7" x2="129.6" y2="268.7" stroke="#e4e4e4" stroke-width="0.6"/>
<line x1="135.4" y1="268.7" x2="245.5" y2="268.7" stroke="#e4e4e4" stroke-width="0.6"/>
<circle cx="35.3" cy="217.4" r="11.4" fill="#c9c9c9" stroke="none" stroke-width="1"/>
<circle cx="35.3" cy="217.4" r="7.52" fill="none" stroke="#dedede" stroke-width="0.5"/>
<line x1="23.9" y1="217.4" x2="46.7" y2="217.4" stroke="#dedede" stroke-width="0.5"/>
<line x1="35.3" y1="206" x2="35.3" y2="228.8" stroke="#dedede" stroke-width="0.5"/>
<circle cx="31.2" cy="221.5" r="1.3" fill="#fff" stroke="none" stroke-width="1"/>
<rect x="39.2" y="204.91" width="90.4" height="2.35" fill="#ed7d31"/>
<rect x="118.2" y="207.36" width="11.4" height="2.35" fill="#a5a5a5"/>
<rect x="118.2" y="214.73" width="11.4" height="2.35" fill="#70ad47"/>
<rect x="96" y="219.64" width="33.6" height="2.35" fill="#9e480e"/>
<rect x="39.2" y="227.01" width="90.4" height="2.35" fill="#ed7d31"/>
<rect x="107" y="229.46" width="22.6" height="2.35" fill="#a5a5a5"/>
<rect x="118.2" y="231.92" width="11.4" height="2.35" fill="#ffc000"/>
<rect x="118.2" y="241.74" width="11.4" height="2.35" fill="#9e480e"/>
<rect x="118.2" y="249.11" width="11.4" height="2.35" fill="#ed7d31"/>
<rect x="73" y="251.56" width="56.6" height="2.35" fill="#a5a5a5"/>
<rect x="73" y="258.93" width="56.6" height="2.35" fill="#70ad47"/>
<rect x="107" y="263.84" width="22.6" height="2.35" fill="#9e480e"/>
<rect x="107" y="271.21" width="22.6" height="2.35" fill="#ed7d31"/>
<rect x="73" y="273.66" width="56.6" height="2.35" fill="#a5a5a5"/>
<rect x="73" y="281.03" width="56.6" height="2.35" fill="#70ad47"/>
<rect x="118.2" y="285.94" width="11.4" height="2.35" fill="#9e480e"/>
<rect x="135.4" y="204.91" width="65.4" height="2.35" fill="#ed7d31"/>
<rect x="135.4" y="207.36" width="16.4" height="2.35" fill="#a5a5a5"/>
<rect x="135.4" y="209.82" width="48.9" height="2.35" fill="#ffc000"/>
<rect x="135.4" y="214.73" width="16.4" height="2.35" fill="#70ad47"/>
<rect x="135.4" y="227.01" width="32.6" height="2.35" fill="#ed7d31"/>
<rect x="135.4" y="229.46" width="32.6" height="2.35" fill="#a5a5a5"/>
<rect x="135.4" y="231.92" width="16.4" height="2.35" fill="#ffc000"/>
<rect x="135.4" y="236.83" width="48.9" height="2.35" fill="#70ad47"/>
<rect x="135.4" y="241.74" width="16.4" height="2.35" fill="#9e480e"/>
<rect x="135.4" y="249.11" width="48.9" height="2.35" fill="#ed7d31"/>
<rect x="135.4" y="251.56" width="16.4" height="2.35" fill="#a5a5a5"/>
<rect x="135.4" y="254.02" width="32.6" height="2.35" fill="#ffc000"/>
<rect x="135.4" y="258.93" width="32.6" height="2.35" fill="#70ad47"/>
<rect x="135.4" y="263.84" width="16.4" height="2.35" fill="#9e480e"/>
<rect x="135.4" y="271.21" width="48.9" height="2.35" fill="#ed7d31"/>
<rect x="135.4" y="273.66" width="48.9" height="2.35" fill="#a5a5a5"/>
<rect x="135.4" y="276.12" width="32.6" height="2.35" fill="#ffc000"/>
<rect x="135.4" y="281.03" width="16.4" height="2.35" fill="#70ad47"/>
<rect x="19.3" y="202.4" width="110.3" height="88.4" fill="none" stroke="#bcbcbc" stroke-width="0.7"/>
<rect x="135.4" y="202.4" width="110.1" height="88.4" fill="none" stroke="#bcbcbc" stroke-width="0.7"/>
<text x="132.7" y="217.48" font-size="7.2" text-anchor="middle" fill="#111" font-weight="bold">1</text>
<text x="132.7" y="239.28" font-size="7.2" text-anchor="middle" fill="#111" font-weight="bold">2</text>
<text x="132.7" y="261.48" font-size="7.2" text-anchor="middle" fill="#111" font-weight="bold">3</text>
<text x="132.7" y="283.08" font-size="7.2" text-anchor="middle" fill="#111" font-weight="bold">4</text>
<line x1="36.4" y1="290.5" x2="36.4" y2="292" stroke="#555" stroke-width="0.7"/>
<line x1="38.2" y1="290.5" x2="38.2" y2="292" stroke="#555" stroke-width="0.7"/>
<line x1="227.3" y1="290.5" x2="227.3" y2="292" stroke="#555" stroke-width="0.7"/>
<line x1="229.1" y1="290.5" x2="229.1" y2="292" stroke="#555" stroke-width="0.7"/>
<text x="20.8" y="298.28" font-size="7.2" text-anchor="middle" fill="#222">100%</text>
<text x="56.3" y="298.28" font-size="7.2" text-anchor="middle" fill="#222">50</text>
<text x="92.7" y="298.28" font-size="7.2" text-anchor="middle" fill="#222">25</text>
<text x="128.7" y="298.28" font-size="7.2" text-anchor="middle" fill="#222">0</text>
<text x="136.5" y="298.28" font-size="7.2" text-anchor="middle" fill="#222">0</text>
<text x="172.5" y="298.28" font-size="7.2" text-anchor="middle" fill="#222">25</text>
<text x="208.9" y="298.28" font-size="7.2" text-anchor="middle" fill="#222">50</text>
<text x="244.6" y="298.28" font-size="7.2" text-anchor="middle" fill="#222">100%</text>
<text x="75.1" y="200.66" font-size="10.6" text-anchor="middle" fill="#111" textLength="11.9" lengthAdjust="spacingAndGlyphs">B6</text>
<text x="190.6" y="200.66" font-size="10.6" text-anchor="middle" fill="#111" textLength="25.9" lengthAdjust="spacingAndGlyphs">BTBR</text>
<text x="131.5" y="182.88" font-size="12.4" text-anchor="middle" fill="#111">Hidden Platform</text>
<text x="6.6" y="182.63" font-size="14" text-anchor="middle" fill="#000">C</text>
<text transform="translate(14.3,247.6) rotate(-90)" x="0" y="2.55" font-size="7.4" text-anchor="middle" fill="#222">TRIALS</text>
<rect x="39.7" y="302.4" width="90.2" height="7.9" fill="#a3d3d2"/>
<rect x="135.1" y="302.4" width="97.2" height="7.9" fill="#a3d3d2"/>
<rect x="80.7" y="311.5" width="49.2" height="7.7" fill="#f8bdab"/>
<rect x="135.1" y="311.5" width="35.2" height="7.7" fill="#f8bdab"/>
<rect x="227.2" y="302" width="1" height="9" fill="#fff"/>
<text x="41.4" y="308.9" font-size="7.4" text-anchor="start" fill="#333">65%</text>
<text x="82.6" y="317.9" font-size="7.4" text-anchor="start" fill="#333">35%</text>
<text x="225.2" y="308.9" font-size="7.4" text-anchor="end" fill="#333">75%</text>
<text x="169" y="317.9" font-size="7.4" text-anchor="end" fill="#333">25%</text>
<line x1="280.3" y1="224.82" x2="390.9" y2="224.82" stroke="#e4e4e4" stroke-width="0.6"/>
<line x1="397.2" y1="224.82" x2="507" y2="224.82" stroke="#e4e4e4" stroke-width="0.6"/>
<line x1="280.3" y1="246.95" x2="390.9" y2="246.95" stroke="#e4e4e4" stroke-width="0.6"/>
<line x1="397.2" y1="246.95" x2="507" y2="246.95" stroke="#e4e4e4" stroke-width="0.6"/>
<line x1="280.3" y1="269.07" x2="390.9" y2="269.07" stroke="#e4e4e4" stroke-width="0.6"/>
<line x1="397.2" y1="269.07" x2="507" y2="269.07" stroke="#e4e4e4" stroke-width="0.6"/>
<circle cx="296.9" cy="217.4" r="11.6" fill="#c9c9c9" stroke="none" stroke-width="1"/>
<circle cx="296.9" cy="217.4" r="7.66" fill="none" stroke="#dedede" stroke-width="0.5"/>
<line x1="285.3" y1="217.4" x2="308.5" y2="217.4" stroke="#dedede" stroke-width="0.5"/>
<line x1="296.9" y1="205.8" x2="296.9" y2="229" stroke="#dedede" stroke-width="0.5"/>
<circle cx="293.1" cy="213.8" r="1.3" fill="#fff" stroke="none" stroke-width="1"/>
<rect x="298" y="208.31" width="92.9" height="2.6" fill="#a5a5a5"/>
<rect x="379.3" y="213.85" width="11.6" height="2.6" fill="#70ad47"/>
<rect x="368.2" y="219.38" width="22.7" height="2.6" fill="#9e480e"/>
<rect x="345.9" y="222.14" width="45" height="2.6" fill="#636363"/>
<rect x="334.3" y="230.44" width="56.6" height="2.6" fill="#a5a5a5"/>
<rect x="334.3" y="235.97" width="56.6" height="2.6" fill="#70ad47"/>
<rect x="368.2" y="244.27" width="22.7" height="2.6" fill="#636363"/>
<rect x="379.3" y="249.8" width="11.6" height="2.6" fill="#ed7d31"/>
<rect x="334.3" y="252.56" width="56.6" height="2.6" fill="#a5a5a5"/>
<rect x="379.3" y="255.33" width="11.6" height="2.6" fill="#ffc000"/>
<rect x="334.3" y="258.1" width="56.6" height="2.6" fill="#70ad47"/>
<rect x="379.3" y="260.86" width="11.6" height="2.6" fill="#255e91"/>
<rect x="345.9" y="271.92" width="45" height="2.6" fill="#ed7d31"/>
<rect x="345.9" y="274.69" width="45" height="2.6" fill="#a5a5a5"/>
<rect x="345.9" y="280.22" width="45" height="2.6" fill="#70ad47"/>
<rect x="379.3" y="282.99" width="11.6" height="2.6" fill="#255e91"/>
<rect x="397.2" y="205.55" width="81.7" height="2.6" fill="#ed7d31"/>
<rect x="397.2" y="211.08" width="32.7" height="2.6" fill="#ffc000"/>
<rect x="397.2" y="213.85" width="32.7" height="2.6" fill="#70ad47"/>
<rect x="397.2" y="227.67" width="32.7" height="2.6" fill="#ed7d31"/>
<rect x="397.2" y="230.44" width="16.4" height="2.6" fill="#a5a5a5"/>
<rect x="397.2" y="233.2" width="32.7" height="2.6" fill="#ffc000"/>
<rect x="397.2" y="235.97" width="65.4" height="2.6" fill="#70ad47"/>
<rect x="397.2" y="249.8" width="32.7" height="2.6" fill="#ed7d31"/>
<rect x="397.2" y="252.56" width="16.4" height="2.6" fill="#a5a5a5"/>
<rect x="397.2" y="255.33" width="32.7" height="2.6" fill="#ffc000"/>
<rect x="397.2" y="258.1" width="65.4" height="2.6" fill="#70ad47"/>
<rect x="397.2" y="271.92" width="32.7" height="2.6" fill="#ed7d31"/>
<rect x="397.2" y="274.69" width="49.2" height="2.6" fill="#a5a5a5"/>
<rect x="397.2" y="277.45" width="49.2" height="2.6" fill="#ffc000"/>
<rect x="397.2" y="280.22" width="16.4" height="2.6" fill="#70ad47"/>
<rect x="280.3" y="202.7" width="110.6" height="88.5" fill="none" stroke="#bcbcbc" stroke-width="0.7"/>
<rect x="397.2" y="202.7" width="109.8" height="88.5" fill="none" stroke="#bcbcbc" stroke-width="0.7"/>
<text x="394.25" y="216.38" font-size="7.2" text-anchor="middle" fill="#111" font-weight="bold">1</text>
<text x="394.25" y="238.18" font-size="7.2" text-anchor="middle" fill="#111" font-weight="bold">2</text>
<text x="394.25" y="259.88" font-size="7.2" text-anchor="middle" fill="#111" font-weight="bold">3</text>
<text x="394.25" y="281.58" font-size="7.2" text-anchor="middle" fill="#111" font-weight="bold">4</text>
<line x1="298.8" y1="290.9" x2="298.8" y2="292.4" stroke="#555" stroke-width="0.7"/>
<line x1="300.6" y1="290.9" x2="300.6" y2="292.4" stroke="#555" stroke-width="0.7"/>
<line x1="488.4" y1="290.9" x2="488.4" y2="292.4" stroke="#555" stroke-width="0.7"/>
<line x1="490.2" y1="290.9" x2="490.2" y2="292.4" stroke="#555" stroke-width="0.7"/>
<text x="282.7" y="298.68" font-size="7.2" text-anchor="middle" fill="#222">100%</text>
<text x="317.8" y="298.68" font-size="7.2" text-anchor="middle" fill="#222">50</text>
<text x="354.4" y="298.68" font-size="7.2" text-anchor="middle" fill="#222">25</text>
<text x="389.9" y="298.68" font-size="7.2" text-anchor="middle" fill="#222">0</text>
<text x="397.6" y="298.68" font-size="7.2" text-anchor="middle" fill="#222">0</text>
<text x="434" y="298.68" font-size="7.2" text-anchor="middle" fill="#222">25</text>
<text x="470.4" y="298.68" font-size="7.2" text-anchor="middle" fill="#222">50</text>
<text x="506.7" y="298.68" font-size="7.2" text-anchor="middle" fill="#222">100%</text>
<text x="338" y="200.96" font-size="10.6" text-anchor="middle" fill="#111" textLength="11.9" lengthAdjust="spacingAndGlyphs">B6</text>
<text x="453.9" y="200.96" font-size="10.6" text-anchor="middle" fill="#111" textLength="25.9" lengthAdjust="spacingAndGlyphs">BTBR</text>
<text x="395.3" y="182.88" font-size="12.4" text-anchor="middle" fill="#111">Hidden Platform-D1</text>
<text x="277" y="182.63" font-size="14" text-anchor="middle" fill="#000">D</text>
<rect x="312.9" y="302.4" width="78.3" height="7.9" fill="#a3d3d2"/>
<rect x="396.9" y="302.4" width="94.2" height="7.9" fill="#a3d3d2"/>
<rect x="329.6" y="311.5" width="61.6" height="7.7" fill="#f8bdab"/>
<rect x="396.9" y="311.5" width="43.1" height="7.7" fill="#f8bdab"/>
<rect x="488.3" y="302" width="1" height="9" fill="#fff"/>
<text x="314.6" y="308.9" font-size="7.4" text-anchor="start" fill="#333">56%</text>
<text x="331" y="317.9" font-size="7.4" text-anchor="start" fill="#333">44%</text>
<text x="486.3" y="308.9" font-size="7.4" text-anchor="end" fill="#333">69%</text>
<text x="438.5" y="317.9" font-size="7.4" text-anchor="end" fill="#333">31%</text>
<line x1="19.5" y1="395.43" x2="129.7" y2="395.43" stroke="#e4e4e4" stroke-width="0.6"/>
<line x1="135.4" y1="395.43" x2="245.5" y2="395.43" stroke="#e4e4e4" stroke-width="0.6"/>
<line x1="19.5" y1="417.55" x2="129.7" y2="417.55" stroke="#e4e4e4" stroke-width="0.6"/>
<line x1="135.4" y1="417.55" x2="245.5" y2="417.55" stroke="#e4e4e4" stroke-width="0.6"/>
<line x1="19.5" y1="439.68" x2="129.7" y2="439.68" stroke="#e4e4e4" stroke-width="0.6"/>
<line x1="135.4" y1="439.68" x2="245.5" y2="439.68" stroke="#e4e4e4" stroke-width="0.6"/>
<circle cx="35.3" cy="388.3" r="11.6" fill="#c9c9c9" stroke="none" stroke-width="1"/>
<circle cx="35.3" cy="388.3" r="7.66" fill="none" stroke="#dedede" stroke-width="0.5"/>
<line x1="23.7" y1="388.3" x2="46.9" y2="388.3" stroke="#dedede" stroke-width="0.5"/>
<line x1="35.3" y1="376.7" x2="35.3" y2="399.9" stroke="#dedede" stroke-width="0.5"/>
<circle cx="31.2" cy="384.8" r="1.3" fill="#fff" stroke="none" stroke-width="1"/>
<rect x="118.2" y="376.02" width="11.5" height="2.6" fill="#ed7d31"/>
<rect x="118.2" y="378.76" width="11.5" height="2.6" fill="#a5a5a5"/>
<rect x="118.2" y="381.5" width="11.5" height="2.6" fill="#ffc000"/>
<rect x="62.1" y="384.25" width="67.6" height="2.6" fill="#70ad47"/>
<rect x="107.1" y="386.99" width="22.6" height="2.6" fill="#255e91"/>
<rect x="96" y="389.73" width="33.7" height="2.6" fill="#9e480e"/>
<rect x="118.2" y="400.71" width="11.5" height="2.6" fill="#a5a5a5"/>
<rect x="50.3" y="406.2" width="79.4" height="2.6" fill="#70ad47"/>
<rect x="73.2" y="411.68" width="56.5" height="2.6" fill="#9e480e"/>
<rect x="118.2" y="422.66" width="11.5" height="2.6" fill="#a5a5a5"/>
<rect x="73.2" y="428.15" width="56.5" height="2.6" fill="#70ad47"/>
<rect x="62.1" y="430.89" width="67.6" height="2.6" fill="#255e91"/>
<rect x="118.2" y="433.63" width="11.5" height="2.6" fill="#9e480e"/>
<rect x="118.2" y="441.87" width="11.5" height="2.6" fill="#ed7d31"/>
<rect x="118.2" y="447.35" width="11.5" height="2.6" fill="#ffc000"/>
<rect x="36.9" y="450.1" width="92.8" height="2.6" fill="#70ad47"/>
<rect x="107.1" y="455.58" width="22.6" height="2.6" fill="#9e480e"/>
<rect x="135.4" y="373.27" width="16.4" height="2.6" fill="#5b9bd5"/>
<rect x="135.4" y="378.76" width="81.7" height="2.6" fill="#a5a5a5"/>
<rect x="135.4" y="381.5" width="16.4" height="2.6" fill="#ffc000"/>
<rect x="135.4" y="384.25" width="16.4" height="2.6" fill="#70ad47"/>
<rect x="135.4" y="389.73" width="16.4" height="2.6" fill="#9e480e"/>
<rect x="135.4" y="395.22" width="16.4" height="2.6" fill="#5b9bd5"/>
<rect x="135.4" y="397.97" width="33.1" height="2.6" fill="#ed7d31"/>
<rect x="135.4" y="403.45" width="16.4" height="2.6" fill="#ffc000"/>
<rect x="135.4" y="406.2" width="65.6" height="2.6" fill="#70ad47"/>
<rect x="135.4" y="417.17" width="16.4" height="2.6" fill="#5b9bd5"/>
<rect x="135.4" y="422.66" width="65.6" height="2.6" fill="#a5a5a5"/>
<rect x="135.4" y="428.15" width="65.6" height="2.6" fill="#70ad47"/>
<rect x="135.4" y="441.87" width="16.4" height="2.6" fill="#ed7d31"/>
<rect x="135.4" y="444.61" width="33.1" height="2.6" fill="#a5a5a5"/>
<rect x="135.4" y="447.35" width="16.4" height="2.6" fill="#ffc000"/>
<rect x="135.4" y="450.1" width="49.4" height="2.6" fill="#70ad47"/>
<rect x="19.5" y="373.3" width="110.2" height="88.5" fill="none" stroke="#bcbcbc" stroke-width="0.7"/>
<rect x="135.4" y="373.3" width="110.1" height="88.5" fill="none" stroke="#bcbcbc" stroke-width="0.7"/>
<text x="132.75" y="388.48" font-size="7.2" text-anchor="middle" fill="#111" font-weight="bold">1</text>
<text x="132.75" y="409.98" font-size="7.2" text-anchor="middle" fill="#111" font-weight="bold">2</text>
<text x="132.75" y="431.58" font-size="7.2" text-anchor="middle" fill="#111" font-weight="bold">3</text>
<text x="132.75" y="453.68" font-size="7.2" text-anchor="middle" fill="#111" font-weight="bold">4</text>
<line x1="36.1" y1="461.5" x2="36.1" y2="463" stroke="#555" stroke-width="0.7"/>
<line x1="37.9" y1="461.5" x2="37.9" y2="463" stroke="#555" stroke-width="0.7"/>
<line x1="226.6" y1="461.5" x2="226.6" y2="463" stroke="#555" stroke-width="0.7"/>
<line x1="228.4" y1="461.5" x2="228.4" y2="463" stroke="#555" stroke-width="0.7"/>
<text x="20.8" y="469.28" font-size="7.2" text-anchor="middle" fill="#222">100%</text>
<text x="56.3" y="469.28" font-size="7.2" text-anchor="middle" fill="#222">50</text>
<text x="92.7" y="469.28" font-size="7.2" text-anchor="middle" fill="#222">25</text>
<text x="128.7" y="469.28" font-size="7.2" text-anchor="middle" fill="#222">0</text>
<text x="136.5" y="469.28" font-size="7.2" text-anchor="middle" fill="#222">0</text>
<text x="172.5" y="469.28" font-size="7.2" text-anchor="middle" fill="#222">25</text>
<text x="208.9" y="469.28" font-size="7.2" text-anchor="middle" fill="#222">50</text>
<text x="244.6" y="469.28" font-size="7.2" text-anchor="middle" fill="#222">100%</text>
<text x="76.7" y="371.36" font-size="10.6" text-anchor="middle" fill="#111" textLength="11.9" lengthAdjust="spacingAndGlyphs">B6</text>
<text x="190.6" y="371.36" font-size="10.6" text-anchor="middle" fill="#111" textLength="25.9" lengthAdjust="spacingAndGlyphs">BTBR</text>
<text x="132.5" y="355.18" font-size="12.4" text-anchor="middle" fill="#111">Hidden Platform-D5</text>
<text x="6" y="354.33" font-size="14" text-anchor="middle" fill="#000">E</text>
<text transform="translate(14.3,417.6) rotate(-90)" x="0" y="2.55" font-size="7.4" text-anchor="middle" fill="#222">TRIALS</text>
<rect x="110.8" y="472.4" width="19.2" height="7.9" fill="#a3d3d2"/>
<rect x="135.1" y="472.4" width="89.5" height="7.9" fill="#a3d3d2"/>
<rect x="25.7" y="482" width="104.3" height="8" fill="#f8bdab"/>
<rect x="135.1" y="482" width="50.2" height="8" fill="#f8bdab"/>
<text x="112.5" y="478.9" font-size="7.4" text-anchor="start" fill="#333">13%</text>
<text x="28.8" y="488.55" font-size="7.4" text-anchor="start" fill="#333">87 %</text>
<text x="222.7" y="478.9" font-size="7.4" text-anchor="end" fill="#333">64%</text>
<text x="183.6" y="488.55" font-size="7.4" text-anchor="end" fill="#333">36%</text>
<rect x="509.6" y="35.5" width="5.4" height="5.4" fill="#5b9bd5"/>
<text x="517.2" y="41.48" font-size="9.5" text-anchor="start" fill="#222">T</text>
<rect x="509.6" y="46.73" width="5.4" height="5.4" fill="#ed7d31"/>
<text x="517.2" y="52.71" font-size="9.5" text-anchor="start" fill="#222">RS</text>
<rect x="509.6" y="57.96" width="5.4" height="5.4" fill="#a5a5a5"/>
<text x="517.2" y="63.94" font-size="9.5" text-anchor="start" fill="#222">S</text>
<rect x="509.6" y="69.19" width="5.4" height="5.4" fill="#ffc000"/>
<text x="517.2" y="75.17" font-size="9.5" text-anchor="start" fill="#222">C</text>
<rect x="509.6" y="80.42" width="5.4" height="5.4" fill="#70ad47"/>
<text x="517.2" y="86.4" font-size="9.5" text-anchor="start" fill="#222">DSe</text>
<rect x="509.6" y="91.65" width="5.4" height="5.4" fill="#255e91"/>
<text x="517.2" y="97.63" font-size="9.5" text-anchor="start" fill="#222">FS</text>
<rect x="509.6" y="102.88" width="5.4" height="5.4" fill="#9e480e"/>
<text x="517.2" y="108.86" font-size="9.5" text-anchor="start" fill="#222">DSw</text>
<rect x="509.6" y="114.11" width="5.4" height="5.4" fill="#636363"/>
<text x="517.2" y="120.09" font-size="9.5" text-anchor="start" fill="#222">P</text>
<text x="291.3" y="352.33" font-size="14" text-anchor="middle" fill="#000">F</text>
<rect x="307.6" y="364.6" width="10.5" height="76.4" fill="#efefef"/>
<rect x="321.4" y="364.6" width="57.1" height="76.4" fill="#efefef"/>
<line x1="307.5" y1="364.6" x2="307.5" y2="441.3" stroke="#555" stroke-width="0.9"/>
<line x1="306" y1="441" x2="307.5" y2="441" stroke="#444" stroke-width="0.5"/>
<text x="305.9" y="443.28" font-size="6.6" text-anchor="end" fill="#222">0</text>
<line x1="306" y1="421.9" x2="307.5" y2="421.9" stroke="#444" stroke-width="0.5"/>
<text x="305.9" y="424.18" font-size="6.6" text-anchor="end" fill="#222">25</text>
<line x1="306" y1="402.8" x2="307.5" y2="402.8" stroke="#444" stroke-width="0.5"/>
<text x="305.9" y="405.08" font-size="6.6" text-anchor="end" fill="#222">50</text>
<line x1="306" y1="383.7" x2="307.5" y2="383.7" stroke="#444" stroke-width="0.5"/>
<text x="305.9" y="385.98" font-size="6.6" text-anchor="end" fill="#222">75</text>
<line x1="306" y1="364.6" x2="307.5" y2="364.6" stroke="#444" stroke-width="0.5"/>
<text x="305.9" y="366.88" font-size="6.6" text-anchor="end" fill="#222">100</text>
<text x="345.3" y="360.82" font-size="7.3" text-anchor="middle" fill="#111">B6</text>
<text transform="translate(290,402.9) rotate(-90)" x="0" y="2.31" font-size="6.7" text-anchor="middle" fill="#222">IMPROVEMENT RATE (%)</text>
<polyline points="325.6,398 337.3,401.3 349.1,411.1 360.7,421.1 372.3,430.6" fill="none" stroke="#4fb3ab" stroke-width="0.7" stroke-linejoin="round" stroke-linecap="round"/>
<polyline points="325.6,407.1 337.3,403.4 349.1,394.3 360.7,384.5 372.3,374.5" fill="none" stroke="#f6a688" stroke-width="0.7" stroke-linejoin="round" stroke-linecap="round"/>
<rect x="324.25" y="396.65" width="2.7" height="2.7" fill="#3a9f98"/>
<rect x="335.95" y="399.95" width="2.7" height="2.7" fill="#3a9f98"/>
<rect x="347.75" y="409.75" width="2.7" height="2.7" fill="#3a9f98"/>
<rect x="359.35" y="419.75" width="2.7" height="2.7" fill="#3a9f98"/>
<rect x="370.95" y="429.25" width="2.7" height="2.7" fill="#3a9f98"/>
<circle cx="325.6" cy="407.1" r="1.55" fill="#f49a7a" stroke="none" stroke-width="1"/>
<circle cx="337.3" cy="403.4" r="1.55" fill="#f49a7a" stroke="none" stroke-width="1"/>
<circle cx="349.1" cy="394.3" r="1.55" fill="#f49a7a" stroke="none" stroke-width="1"/>
<circle cx="360.7" cy="384.5" r="1.55" fill="#f49a7a" stroke="none" stroke-width="1"/>
<circle cx="372.3" cy="374.5" r="1.55" fill="#f49a7a" stroke="none" stroke-width="1"/>
<rect x="312.55" y="390.05" width="2.7" height="2.7" fill="#3a9f98"/>
<circle cx="313.9" cy="414.1" r="1.55" fill="#f49a7a" stroke="none" stroke-width="1"/>
<text x="313.9" y="447.08" font-size="6.6" text-anchor="middle" fill="#222">D1</text>
<text x="325.6" y="447.08" font-size="6.6" text-anchor="middle" fill="#222">D1</text>
<text x="337.3" y="447.08" font-size="6.6" text-anchor="middle" fill="#222">D2</text>
<text x="349.1" y="447.08" font-size="6.6" text-anchor="middle" fill="#222">D3</text>
<text x="360.7" y="447.08" font-size="6.6" text-anchor="middle" fill="#222">D4</text>
<text x="372.3" y="447.08" font-size="6.6" text-anchor="middle" fill="#222">D5</text>
<text x="340.7" y="457.75" font-size="7.4" text-anchor="middle" fill="#222">DAYS</text>
<rect x="381.5" y="408" width="5.3" height="33" fill="#4e74b4"/>
<text x="388.2" y="405.25" font-size="7.4" text-anchor="middle" fill="#222">43%</text>
<rect x="427.6" y="364.6" width="10.5" height="76.4" fill="#efefef"/>
<rect x="441.4" y="364.6" width="57.1" height="76.4" fill="#efefef"/>
<line x1="427.5" y1="364.6" x2="427.5" y2="441.3" stroke="#555" stroke-width="0.9"/>
<line x1="426" y1="441" x2="427.5" y2="441" stroke="#444" stroke-width="0.5"/>
<text x="425.9" y="443.28" font-size="6.6" text-anchor="end" fill="#222">0</text>
<line x1="426" y1="421.9" x2="427.5" y2="421.9" stroke="#444" stroke-width="0.5"/>
<text x="425.9" y="424.18" font-size="6.6" text-anchor="end" fill="#222">25</text>
<line x1="426" y1="402.8" x2="427.5" y2="402.8" stroke="#444" stroke-width="0.5"/>
<text x="425.9" y="405.08" font-size="6.6" text-anchor="end" fill="#222">50</text>
<line x1="426" y1="383.7" x2="427.5" y2="383.7" stroke="#444" stroke-width="0.5"/>
<text x="425.9" y="385.98" font-size="6.6" text-anchor="end" fill="#222">75</text>
<line x1="426" y1="364.6" x2="427.5" y2="364.6" stroke="#444" stroke-width="0.5"/>
<text x="425.9" y="366.88" font-size="6.6" text-anchor="end" fill="#222">100</text>
<text x="463.2" y="360.82" font-size="7.3" text-anchor="middle" fill="#111">BTBR</text>
<text transform="translate(410,402.9) rotate(-90)" x="0" y="2.31" font-size="6.7" text-anchor="middle" fill="#222">IMPROVEMENT RATE (%)</text>
<polyline points="445.6,388.4 457.3,389.6 469.1,384.4 480.7,389.6 492.3,392.1" fill="none" stroke="#4fb3ab" stroke-width="0.7" stroke-linejoin="round" stroke-linecap="round"/>
<polyline points="445.6,417.1 457.3,415.6 469.1,421.3 480.7,415.6 492.3,413.3" fill="none" stroke="#f6a688" stroke-width="0.7" stroke-linejoin="round" stroke-linecap="round"/>
<rect x="444.25" y="387.05" width="2.7" height="2.7" fill="#3a9f98"/>
<rect x="455.95" y="388.25" width="2.7" height="2.7" fill="#3a9f98"/>
<rect x="467.75" y="383.05" width="2.7" height="2.7" fill="#3a9f98"/>
<rect x="479.35" y="388.25" width="2.7" height="2.7" fill="#3a9f98"/>
<rect x="490.95" y="390.75" width="2.7" height="2.7" fill="#3a9f98"/>
<circle cx="445.6" cy="417.1" r="1.55" fill="#f49a7a" stroke="none" stroke-width="1"/>
<circle cx="457.3" cy="415.6" r="1.55" fill="#f49a7a" stroke="none" stroke-width="1"/>
<circle cx="469.1" cy="421.3" r="1.55" fill="#f49a7a" stroke="none" stroke-width="1"/>
<circle cx="480.7" cy="415.6" r="1.55" fill="#f49a7a" stroke="none" stroke-width="1"/>
<circle cx="492.3" cy="413.3" r="1.55" fill="#f49a7a" stroke="none" stroke-width="1"/>
<rect x="432.55" y="382.55" width="2.7" height="2.7" fill="#3a9f98"/>
<circle cx="433.9" cy="421.8" r="1.55" fill="#f49a7a" stroke="none" stroke-width="1"/>
<text x="433.9" y="447.08" font-size="6.6" text-anchor="middle" fill="#222">D1</text>
<text x="445.6" y="447.08" font-size="6.6" text-anchor="middle" fill="#222">D1</text>
<text x="457.3" y="447.08" font-size="6.6" text-anchor="middle" fill="#222">D2</text>
<text x="469.1" y="447.08" font-size="6.6" text-anchor="middle" fill="#222">D3</text>
<text x="480.7" y="447.08" font-size="6.6" text-anchor="middle" fill="#222">D4</text>
<text x="492.3" y="447.08" font-size="6.6" text-anchor="middle" fill="#222">D5</text>
<text x="460.7" y="457.75" font-size="7.4" text-anchor="middle" fill="#222">DAYS</text>
<rect x="501.5" y="436.4" width="5.3" height="4.6" fill="#4e74b4"/>
<text x="506.5" y="434.45" font-size="7.4" text-anchor="middle" fill="#222">5%</text>
<text x="6.3" y="519.83" font-size="14" text-anchor="middle" fill="#000">G</text>
<rect x="31.5" y="520.5" width="79.8" height="53.9" fill="#ececec"/>
<polygon points="31.5,574.4 31.5,549.25 35.49,549.25 35.49,549.25 39.48,549.25 39.48,552.84 43.47,552.84 43.47,556.43 47.46,556.43 47.46,549.25 51.45,549.25 51.45,556.43 55.44,556.43 55.44,538.47 59.43,538.47 59.43,549.25 63.42,549.25 63.42,542.06 67.41,542.06 67.41,534.87 71.4,534.87 71.4,549.25 75.39,549.25 75.39,545.65 79.38,545.65 79.38,542.06 83.37,542.06 83.37,542.06 87.36,542.06 87.36,549.25 91.35,549.25 91.35,552.84 95.34,552.84 95.34,542.06 99.33,542.06 99.33,538.47 103.32,538.47 103.32,542.06 107.31,542.06 107.31,552.84 111.3,552.84 111.3,574.4" fill="#f0b000"/>
<line x1="31.5" y1="520.5" x2="111.3" y2="520.5" stroke="#555" stroke-width="0.8"/>
<line x1="31.5" y1="520.5" x2="31.5" y2="574.4" stroke="#222" stroke-width="0.8"/>
<line x1="111.3" y1="520.5" x2="111.3" y2="574.4" stroke="#222" stroke-width="0.8"/>
<line x1="31.5" y1="574.4" x2="111.3" y2="574.4" stroke="#222" stroke-width="0.8"/>
<line x1="33.49" y1="574.4" x2="33.49" y2="575.6" stroke="#333" stroke-width="0.4"/>
<line x1="37.48" y1="574.4" x2="37.48" y2="575.6" stroke="#333" stroke-width="0.4"/>
<line x1="41.48" y1="574.4" x2="41.48" y2="575.6" stroke="#333" stroke-width="0.4"/>
<line x1="45.47" y1="574.4" x2="45.47" y2="575.6" stroke="#333" stroke-width="0.4"/>
<line x1="49.45" y1="574.4" x2="49.45" y2="575.6" stroke="#333" stroke-width="0.4"/>
<line x1="53.45" y1="574.4" x2="53.45" y2="575.6" stroke="#333" stroke-width="0.4"/>
<line x1="57.44" y1="574.4" x2="57.44" y2="575.6" stroke="#333" stroke-width="0.4"/>
<line x1="61.42" y1="574.4" x2="61.42" y2="575.6" stroke="#333" stroke-width="0.4"/>
<line x1="65.41" y1="574.4" x2="65.41" y2="575.6" stroke="#333" stroke-width="0.4"/>
<line x1="69.41" y1="574.4" x2="69.41" y2="575.6" stroke="#333" stroke-width="0.4"/>
<line x1="73.39" y1="574.4" x2="73.39" y2="575.6" stroke="#333" stroke-width="0.4"/>
<line x1="77.38" y1="574.4" x2="77.38" y2="575.6" stroke="#333" stroke-width="0.4"/>
<line x1="81.38" y1="574.4" x2="81.38" y2="575.6" stroke="#333" stroke-width="0.4"/>
<line x1="85.36" y1="574.4" x2="85.36" y2="575.6" stroke="#333" stroke-width="0.4"/>
<line x1="89.35" y1="574.4" x2="89.35" y2="575.6" stroke="#333" stroke-width="0.4"/>
<line x1="93.34" y1="574.4" x2="93.34" y2="575.6" stroke="#333" stroke-width="0.4"/>
<line x1="97.33" y1="574.4" x2="97.33" y2="575.6" stroke="#333" stroke-width="0.4"/>
<line x1="101.33" y1="574.4" x2="101.33" y2="575.6" stroke="#333" stroke-width="0.4"/>
<line x1="105.31" y1="574.4" x2="105.31" y2="575.6" stroke="#333" stroke-width="0.4"/>
<line x1="109.3" y1="574.4" x2="109.3" y2="575.6" stroke="#333" stroke-width="0.4"/>
<line x1="30" y1="520.5" x2="31.5" y2="520.5" stroke="#222" stroke-width="0.5"/>
<line x1="111.3" y1="520.5" x2="112.8" y2="520.5" stroke="#222" stroke-width="0.5"/>
<text x="29.7" y="522.85" font-size="6.8" text-anchor="end" fill="#222">15</text>
<text x="113.1" y="522.85" font-size="6.8" text-anchor="start" fill="#222">60</text>
<line x1="30" y1="538.47" x2="31.5" y2="538.47" stroke="#222" stroke-width="0.5"/>
<line x1="111.3" y1="538.47" x2="112.8" y2="538.47" stroke="#222" stroke-width="0.5"/>
<text x="29.7" y="540.81" font-size="6.8" text-anchor="end" fill="#222">10</text>
<text x="113.1" y="540.81" font-size="6.8" text-anchor="start" fill="#222">40</text>
<line x1="30" y1="556.43" x2="31.5" y2="556.43" stroke="#222" stroke-width="0.5"/>
<line x1="111.3" y1="556.43" x2="112.8" y2="556.43" stroke="#222" stroke-width="0.5"/>
<text x="29.7" y="558.78" font-size="6.8" text-anchor="end" fill="#222">5</text>
<text x="113.1" y="558.78" font-size="6.8" text-anchor="start" fill="#222">20</text>
<text x="33.49" y="579.12" font-size="4.4" text-anchor="middle" fill="#222">1</text>
<text x="49.45" y="579.12" font-size="4.4" text-anchor="middle" fill="#222">5</text>
<text x="69.41" y="579.12" font-size="4.4" text-anchor="middle" fill="#222">10</text>
<text x="89.35" y="579.12" font-size="4.4" text-anchor="middle" fill="#222">15</text>
<text x="109.3" y="579.12" font-size="4.4" text-anchor="middle" fill="#222">20</text>
<text x="69.7" y="585.33" font-size="5.6" text-anchor="middle" fill="#222">TRIALS</text>
<text x="70.7" y="515.09" font-size="7.8" text-anchor="middle" fill="#111">B6</text>
<polyline points="33.49,531.9 37.48,546.1 41.48,540.6 45.47,534.4 49.45,547.5 53.45,551.8 57.44,553 61.42,550.9 65.41,558.8 69.41,563.9 73.39,564.7 77.38,566.3 81.38,557 85.36,561.8 89.35,560.2 93.34,557 97.33,550.2 101.33,557 105.31,556 109.3,558.7" fill="none" stroke="#5d9a3c" stroke-width="0.7" stroke-linejoin="round" stroke-linecap="round"/>
<circle cx="33.49" cy="531.9" r="1.25" fill="#3f7330" stroke="none" stroke-width="1"/>
<circle cx="37.48" cy="546.1" r="1.25" fill="#3f7330" stroke="none" stroke-width="1"/>
<circle cx="41.48" cy="540.6" r="1.25" fill="#3f7330" stroke="none" stroke-width="1"/>
<circle cx="45.47" cy="534.4" r="1.25" fill="#3f7330" stroke="none" stroke-width="1"/>
<circle cx="49.45" cy="547.5" r="1.25" fill="#3f7330" stroke="none" stroke-width="1"/>
<circle cx="53.45" cy="551.8" r="1.25" fill="#3f7330" stroke="none" stroke-width="1"/>
<circle cx="57.44" cy="553" r="1.25" fill="#3f7330" stroke="none" stroke-width="1"/>
<circle cx="61.42" cy="550.9" r="1.25" fill="#3f7330" stroke="none" stroke-width="1"/>
<circle cx="65.41" cy="558.8" r="1.25" fill="#3f7330" stroke="none" stroke-width="1"/>
<circle cx="69.41" cy="563.9" r="1.25" fill="#3f7330" stroke="none" stroke-width="1"/>
<circle cx="73.39" cy="564.7" r="1.25" fill="#3f7330" stroke="none" stroke-width="1"/>
<circle cx="77.38" cy="566.3" r="1.25" fill="#3f7330" stroke="none" stroke-width="1"/>
<circle cx="81.38" cy="557" r="1.25" fill="#3f7330" stroke="none" stroke-width="1"/>
<circle cx="85.36" cy="561.8" r="1.25" fill="#3f7330" stroke="none" stroke-width="1"/>
<circle cx="89.35" cy="560.2" r="1.25" fill="#3f7330" stroke="none" stroke-width="1"/>
<circle cx="93.34" cy="557" r="1.25" fill="#3f7330" stroke="none" stroke-width="1"/>
<circle cx="97.33" cy="550.2" r="1.25" fill="#3f7330" stroke="none" stroke-width="1"/>
<circle cx="101.33" cy="557" r="1.25" fill="#3f7330" stroke="none" stroke-width="1"/>
<circle cx="105.31" cy="556" r="1.25" fill="#3f7330" stroke="none" stroke-width="1"/>
<circle cx="109.3" cy="558.7" r="1.25" fill="#3f7330" stroke="none" stroke-width="1"/>
<text transform="translate(18,547.2) rotate(-90)" x="0" y="1.76" font-size="5.1" text-anchor="middle" fill="#eaa900">SPATIAL STRATEGIES</text>
<text transform="translate(126.2,546.7) rotate(90)" x="0" y="1.52" font-size="4.4" text-anchor="middle" fill="#5d9a3c">LATENCY(S)</text>
<rect x="157.7" y="520.5" width="80.6" height="53.9" fill="#ececec"/>
<polygon points="157.7,574.4 157.7,567.21 161.73,567.21 161.73,560.03 165.76,560.03 165.76,560.03 169.79,560.03 169.79,570.81 173.82,570.81 173.82,556.43 177.85,556.43 177.85,556.43 181.88,556.43 181.88,560.03 185.91,560.03 185.91,563.62 189.94,563.62 189.94,570.81 193.97,570.81 193.97,567.21 198,567.21 198,563.62 202.03,563.62 202.03,560.03 206.06,560.03 206.06,563.62 210.09,563.62 210.09,570.81 214.12,570.81 214.12,570.81 218.15,570.81 218.15,556.43 222.18,556.43 222.18,567.21 226.21,567.21 226.21,560.03 230.24,560.03 230.24,560.03 234.27,560.03 234.27,567.21 238.3,567.21 238.3,574.4" fill="#f0b000"/>
<line x1="157.7" y1="520.5" x2="238.3" y2="520.5" stroke="#555" stroke-width="0.8"/>
<line x1="157.7" y1="520.5" x2="157.7" y2="574.4" stroke="#222" stroke-width="0.8"/>
<line x1="238.3" y1="520.5" x2="238.3" y2="574.4" stroke="#222" stroke-width="0.8"/>
<line x1="157.7" y1="574.4" x2="238.3" y2="574.4" stroke="#222" stroke-width="0.8"/>
<line x1="159.71" y1="574.4" x2="159.71" y2="575.6" stroke="#333" stroke-width="0.4"/>
<line x1="163.75" y1="574.4" x2="163.75" y2="575.6" stroke="#333" stroke-width="0.4"/>
<line x1="167.77" y1="574.4" x2="167.77" y2="575.6" stroke="#333" stroke-width="0.4"/>
<line x1="171.81" y1="574.4" x2="171.81" y2="575.6" stroke="#333" stroke-width="0.4"/>
<line x1="175.83" y1="574.4" x2="175.83" y2="575.6" stroke="#333" stroke-width="0.4"/>
<line x1="179.87" y1="574.4" x2="179.87" y2="575.6" stroke="#333" stroke-width="0.4"/>
<line x1="183.89" y1="574.4" x2="183.89" y2="575.6" stroke="#333" stroke-width="0.4"/>
<line x1="187.93" y1="574.4" x2="187.93" y2="575.6" stroke="#333" stroke-width="0.4"/>
<line x1="191.95" y1="574.4" x2="191.95" y2="575.6" stroke="#333" stroke-width="0.4"/>
<line x1="195.99" y1="574.4" x2="195.99" y2="575.6" stroke="#333" stroke-width="0.4"/>
<line x1="200.01" y1="574.4" x2="200.01" y2="575.6" stroke="#333" stroke-width="0.4"/>
<line x1="204.05" y1="574.4" x2="204.05" y2="575.6" stroke="#333" stroke-width="0.4"/>
<line x1="208.07" y1="574.4" x2="208.07" y2="575.6" stroke="#333" stroke-width="0.4"/>
<line x1="212.11" y1="574.4" x2="212.11" y2="575.6" stroke="#333" stroke-width="0.4"/>
<line x1="216.13" y1="574.4" x2="216.13" y2="575.6" stroke="#333" stroke-width="0.4"/>
<line x1="220.17" y1="574.4" x2="220.17" y2="575.6" stroke="#333" stroke-width="0.4"/>
<line x1="224.19" y1="574.4" x2="224.19" y2="575.6" stroke="#333" stroke-width="0.4"/>
<line x1="228.23" y1="574.4" x2="228.23" y2="575.6" stroke="#333" stroke-width="0.4"/>
<line x1="232.25" y1="574.4" x2="232.25" y2="575.6" stroke="#333" stroke-width="0.4"/>
<line x1="236.29" y1="574.4" x2="236.29" y2="575.6" stroke="#333" stroke-width="0.4"/>
<line x1="156.2" y1="520.5" x2="157.7" y2="520.5" stroke="#222" stroke-width="0.5"/>
<line x1="238.3" y1="520.5" x2="239.8" y2="520.5" stroke="#222" stroke-width="0.5"/>
<text x="155.9" y="522.85" font-size="6.8" text-anchor="end" fill="#222">15</text>
<text x="240.1" y="522.85" font-size="6.8" text-anchor="start" fill="#222">60</text>
<line x1="156.2" y1="538.47" x2="157.7" y2="538.47" stroke="#222" stroke-width="0.5"/>
<line x1="238.3" y1="538.47" x2="239.8" y2="538.47" stroke="#222" stroke-width="0.5"/>
<text x="155.9" y="540.81" font-size="6.8" text-anchor="end" fill="#222">10</text>
<text x="240.1" y="540.81" font-size="6.8" text-anchor="start" fill="#222">40</text>
<line x1="156.2" y1="556.43" x2="157.7" y2="556.43" stroke="#222" stroke-width="0.5"/>
<line x1="238.3" y1="556.43" x2="239.8" y2="556.43" stroke="#222" stroke-width="0.5"/>
<text x="155.9" y="558.78" font-size="6.8" text-anchor="end" fill="#222">5</text>
<text x="240.1" y="558.78" font-size="6.8" text-anchor="start" fill="#222">20</text>
<text x="159.71" y="579.12" font-size="4.4" text-anchor="middle" fill="#222">1</text>
<text x="175.83" y="579.12" font-size="4.4" text-anchor="middle" fill="#222">5</text>
<text x="195.99" y="579.12" font-size="4.4" text-anchor="middle" fill="#222">10</text>
<text x="216.13" y="579.12" font-size="4.4" text-anchor="middle" fill="#222">15</text>
<text x="236.29" y="579.12" font-size="4.4" text-anchor="middle" fill="#222">20</text>
<text x="196.3" y="585.33" font-size="5.6" text-anchor="middle" fill="#222">TRIALS</text>
<text x="197.7" y="515.09" font-size="7.8" text-anchor="middle" fill="#111">BTBR</text>
<polyline points="159.71,534.7 163.75,542 167.77,548.2 171.81,530.4 175.83,535.1 179.87,532.7 183.89,537.5 187.93,537.8 191.95,541.1 195.99,541.9 200.01,544.9 204.05,547 208.07,540.7 212.11,540.7 216.13,544.6 220.17,544 224.19,533.1 228.23,533.3 232.25,539.7 236.29,537" fill="none" stroke="#5d9a3c" stroke-width="0.7" stroke-linejoin="round" stroke-linecap="round"/>
<circle cx="159.71" cy="534.7" r="1.25" fill="#3f7330" stroke="none" stroke-width="1"/>
<circle cx="163.75" cy="542" r="1.25" fill="#3f7330" stroke="none" stroke-width="1"/>
<circle cx="167.77" cy="548.2" r="1.25" fill="#3f7330" stroke="none" stroke-width="1"/>
<circle cx="171.81" cy="530.4" r="1.25" fill="#3f7330" stroke="none" stroke-width="1"/>
<circle cx="175.83" cy="535.1" r="1.25" fill="#3f7330" stroke="none" stroke-width="1"/>
<circle cx="179.87" cy="532.7" r="1.25" fill="#3f7330" stroke="none" stroke-width="1"/>
<circle cx="183.89" cy="537.5" r="1.25" fill="#3f7330" stroke="none" stroke-width="1"/>
<circle cx="187.93" cy="537.8" r="1.25" fill="#3f7330" stroke="none" stroke-width="1"/>
<circle cx="191.95" cy="541.1" r="1.25" fill="#3f7330" stroke="none" stroke-width="1"/>
<circle cx="195.99" cy="541.9" r="1.25" fill="#3f7330" stroke="none" stroke-width="1"/>
<circle cx="200.01" cy="544.9" r="1.25" fill="#3f7330" stroke="none" stroke-width="1"/>
<circle cx="204.05" cy="547" r="1.25" fill="#3f7330" stroke="none" stroke-width="1"/>
<circle cx="208.07" cy="540.7" r="1.25" fill="#3f7330" stroke="none" stroke-width="1"/>
<circle cx="212.11" cy="540.7" r="1.25" fill="#3f7330" stroke="none" stroke-width="1"/>
<circle cx="216.13" cy="544.6" r="1.25" fill="#3f7330" stroke="none" stroke-width="1"/>
<circle cx="220.17" cy="544" r="1.25" fill="#3f7330" stroke="none" stroke-width="1"/>
<circle cx="224.19" cy="533.1" r="1.25" fill="#3f7330" stroke="none" stroke-width="1"/>
<circle cx="228.23" cy="533.3" r="1.25" fill="#3f7330" stroke="none" stroke-width="1"/>
<circle cx="232.25" cy="539.7" r="1.25" fill="#3f7330" stroke="none" stroke-width="1"/>
<circle cx="236.29" cy="537" r="1.25" fill="#3f7330" stroke="none" stroke-width="1"/>
<text transform="translate(144.2,547.2) rotate(-90)" x="0" y="1.76" font-size="5.1" text-anchor="middle" fill="#eaa900">SPATIAL STRATEGIES</text>
<text transform="translate(252.6,546.7) rotate(90)" x="0" y="1.52" font-size="4.4" text-anchor="middle" fill="#5d9a3c">LATENCY(S)</text>
<rect x="31.3" y="596.3" width="81.7" height="66.7" fill="none" stroke="#999" stroke-width="0.6"/>
<line x1="31.3" y1="596.3" x2="31.3" y2="663.4" stroke="#222" stroke-width="0.9"/>
<line x1="30.9" y1="663" x2="113" y2="663" stroke="#222" stroke-width="0.9"/>
<line x1="29.7" y1="596.3" x2="31.3" y2="596.3" stroke="#222" stroke-width="0.5"/>
<text x="27.6" y="598.65" font-size="6.8" text-anchor="end" fill="#222">12</text>
<line x1="29.7" y1="618.4" x2="31.3" y2="618.4" stroke="#222" stroke-width="0.5"/>
<text x="27.6" y="620.75" font-size="6.8" text-anchor="end" fill="#222">8</text>
<line x1="29.7" y1="640.9" x2="31.3" y2="640.9" stroke="#222" stroke-width="0.5"/>
<text x="27.6" y="643.25" font-size="6.8" text-anchor="end" fill="#222">4</text>
<line x1="29.7" y1="663" x2="31.3" y2="663" stroke="#222" stroke-width="0.5"/>
<line x1="31.3" y1="663" x2="31.3" y2="664.6" stroke="#222" stroke-width="0.5"/>
<text x="31.3" y="669.75" font-size="6.8" text-anchor="middle" fill="#222">0</text>
<line x1="58.5" y1="663" x2="58.5" y2="664.6" stroke="#222" stroke-width="0.5"/>
<text x="58.5" y="669.75" font-size="6.8" text-anchor="middle" fill="#222">20</text>
<line x1="85.6" y1="663" x2="85.6" y2="664.6" stroke="#222" stroke-width="0.5"/>
<text x="85.6" y="669.75" font-size="6.8" text-anchor="middle" fill="#222">40</text>
<line x1="113" y1="663" x2="113" y2="664.6" stroke="#222" stroke-width="0.5"/>
<text x="113" y="669.75" font-size="6.8" text-anchor="middle" fill="#222">60</text>
<line x1="42.5" y1="613" x2="81.8" y2="629.6" stroke="#f07878" stroke-width="0.6"/>
<line x1="45.1" y1="601.4" x2="47.7" y2="601.4" stroke="#4a7ebb" stroke-width="0.8"/>
<line x1="46.4" y1="600.1" x2="46.4" y2="602.7" stroke="#4a7ebb" stroke-width="0.8"/>
<line x1="44.1" y1="612.2" x2="46.7" y2="612.2" stroke="#4a7ebb" stroke-width="0.8"/>
<line x1="45.4" y1="610.9" x2="45.4" y2="613.5" stroke="#4a7ebb" stroke-width="0.8"/>
<line x1="48.2" y1="612.2" x2="50.8" y2="612.2" stroke="#4a7ebb" stroke-width="0.8"/>
<line x1="49.5" y1="610.9" x2="49.5" y2="613.5" stroke="#4a7ebb" stroke-width="0.8"/>
<line x1="52.4" y1="612.2" x2="55" y2="612.2" stroke="#4a7ebb" stroke-width="0.8"/>
<line x1="53.7" y1="610.9" x2="53.7" y2="613.5" stroke="#4a7ebb" stroke-width="0.8"/>
<line x1="55.4" y1="612.2" x2="58" y2="612.2" stroke="#4a7ebb" stroke-width="0.8"/>
<line x1="56.7" y1="610.9" x2="56.7" y2="613.5" stroke="#4a7ebb" stroke-width="0.8"/>
<line x1="55.4" y1="607" x2="58" y2="607" stroke="#4a7ebb" stroke-width="0.8"/>
<line x1="56.7" y1="605.7" x2="56.7" y2="608.3" stroke="#4a7ebb" stroke-width="0.8"/>
<line x1="61.8" y1="607" x2="64.4" y2="607" stroke="#4a7ebb" stroke-width="0.8"/>
<line x1="63.1" y1="605.7" x2="63.1" y2="608.3" stroke="#4a7ebb" stroke-width="0.8"/>
<line x1="66.3" y1="612.2" x2="68.9" y2="612.2" stroke="#4a7ebb" stroke-width="0.8"/>
<line x1="67.6" y1="610.9" x2="67.6" y2="613.5" stroke="#4a7ebb" stroke-width="0.8"/>
<line x1="41.6" y1="618" x2="44.2" y2="618" stroke="#4a7ebb" stroke-width="0.8"/>
<line x1="42.9" y1="616.7" x2="42.9" y2="619.3" stroke="#4a7ebb" stroke-width="0.8"/>
<line x1="44.1" y1="623.7" x2="46.7" y2="623.7" stroke="#4a7ebb" stroke-width="0.8"/>
<line x1="45.4" y1="622.4" x2="45.4" y2="625" stroke="#4a7ebb" stroke-width="0.8"/>
<line x1="50.7" y1="623.7" x2="53.3" y2="623.7" stroke="#4a7ebb" stroke-width="0.8"/>
<line x1="52" y1="622.4" x2="52" y2="625" stroke="#4a7ebb" stroke-width="0.8"/>
<line x1="64.6" y1="623.7" x2="67.2" y2="623.7" stroke="#4a7ebb" stroke-width="0.8"/>
<line x1="65.9" y1="622.4" x2="65.9" y2="625" stroke="#4a7ebb" stroke-width="0.8"/>
<line x1="70.9" y1="623.7" x2="73.5" y2="623.7" stroke="#4a7ebb" stroke-width="0.8"/>
<line x1="72.2" y1="622.4" x2="72.2" y2="625" stroke="#4a7ebb" stroke-width="0.8"/>
<line x1="72.1" y1="623.7" x2="74.7" y2="623.7" stroke="#4a7ebb" stroke-width="0.8"/>
<line x1="73.4" y1="622.4" x2="73.4" y2="625" stroke="#4a7ebb" stroke-width="0.8"/>
<line x1="52.4" y1="629.6" x2="55" y2="629.6" stroke="#4a7ebb" stroke-width="0.8"/>
<line x1="53.7" y1="628.3" x2="53.7" y2="630.9" stroke="#4a7ebb" stroke-width="0.8"/>
<line x1="55.4" y1="629.6" x2="58" y2="629.6" stroke="#4a7ebb" stroke-width="0.8"/>
<line x1="56.7" y1="628.3" x2="56.7" y2="630.9" stroke="#4a7ebb" stroke-width="0.8"/>
<line x1="80.5" y1="629.6" x2="83.1" y2="629.6" stroke="#4a7ebb" stroke-width="0.8"/>
<line x1="81.8" y1="628.3" x2="81.8" y2="630.9" stroke="#4a7ebb" stroke-width="0.8"/>
<line x1="63.4" y1="634.7" x2="66" y2="634.7" stroke="#4a7ebb" stroke-width="0.8"/>
<line x1="64.7" y1="633.4" x2="64.7" y2="636" stroke="#4a7ebb" stroke-width="0.8"/>
<line x1="72.4" y1="634.7" x2="75" y2="634.7" stroke="#4a7ebb" stroke-width="0.8"/>
<line x1="73.7" y1="633.4" x2="73.7" y2="636" stroke="#4a7ebb" stroke-width="0.8"/>
<rect x="78.4" y="597.3" width="33.8" height="18.9" fill="#fff" stroke="#aaa" stroke-width="0.7"/>
<text x="80.1" y="604.96" font-size="7.4" fill="#1a1a1a"><tspan font-style="italic">r</tspan><tspan font-size="5.92" dy="0.5" font-style="italic">s</tspan><tspan dy="-0.5">=-0.446</tspan></text>
<text x="80.1" y="613.46" font-size="7.4" fill="#1a1a1a"><tspan font-style="italic">p</tspan>=0.048</text>
<text x="70.7" y="679.75" font-size="7.4" text-anchor="middle" fill="#222">LATENCY</text>
<text transform="translate(15.5,629.5) rotate(-90)" x="0" y="2.04" font-size="5.9" text-anchor="middle" fill="#222">SPATIAL STRATEGY</text>
<rect x="157" y="596.5" width="82.4" height="66.2" fill="none" stroke="#999" stroke-width="0.6"/>
<line x1="157" y1="596.5" x2="157" y2="663.1" stroke="#222" stroke-width="0.9"/>
<line x1="156.6" y1="662.7" x2="239.4" y2="662.7" stroke="#222" stroke-width="0.9"/>
<line x1="155.4" y1="596.5" x2="157" y2="596.5" stroke="#222" stroke-width="0.5"/>
<text x="153.4" y="598.85" font-size="6.8" text-anchor="end" fill="#222">12</text>
<line x1="155.4" y1="618.5" x2="157" y2="618.5" stroke="#222" stroke-width="0.5"/>
<text x="153.4" y="620.85" font-size="6.8" text-anchor="end" fill="#222">8</text>
<line x1="155.4" y1="640.6" x2="157" y2="640.6" stroke="#222" stroke-width="0.5"/>
<text x="153.4" y="642.95" font-size="6.8" text-anchor="end" fill="#222">4</text>
<line x1="155.4" y1="662.7" x2="157" y2="662.7" stroke="#222" stroke-width="0.5"/>
<line x1="157" y1="662.7" x2="157" y2="664.3" stroke="#222" stroke-width="0.5"/>
<text x="157" y="669.75" font-size="6.8" text-anchor="middle" fill="#222">0</text>
<line x1="184.5" y1="662.7" x2="184.5" y2="664.3" stroke="#222" stroke-width="0.5"/>
<text x="184.5" y="669.75" font-size="6.8" text-anchor="middle" fill="#222">20</text>
<line x1="211.9" y1="662.7" x2="211.9" y2="664.3" stroke="#222" stroke-width="0.5"/>
<text x="211.9" y="669.75" font-size="6.8" text-anchor="middle" fill="#222">40</text>
<line x1="239.4" y1="662.7" x2="239.4" y2="664.3" stroke="#222" stroke-width="0.5"/>
<text x="239.4" y="669.75" font-size="6.8" text-anchor="middle" fill="#222">60</text>
<line x1="196.7" y1="645" x2="225.5" y2="647.3" stroke="#f07878" stroke-width="0.6"/>
<rect x="202.7" y="633.6" width="2.2" height="2" fill="#4a7ebb"/>
<rect x="215.9" y="633.6" width="2.2" height="2" fill="#4a7ebb"/>
<rect x="219.8" y="633.6" width="2.2" height="2" fill="#4a7ebb"/>
<rect x="195.6" y="639.3" width="2.2" height="2" fill="#4a7ebb"/>
<rect x="197.9" y="639.3" width="2.2" height="2" fill="#4a7ebb"/>
<rect x="205.7" y="639.3" width="2.2" height="2" fill="#4a7ebb"/>
<rect x="209.2" y="639.3" width="2.2" height="2" fill="#4a7ebb"/>
<rect x="212.7" y="639.3" width="2.2" height="2" fill="#4a7ebb"/>
<rect x="219.4" y="639.3" width="2.2" height="2" fill="#4a7ebb"/>
<rect x="201.3" y="645.1" width="2.2" height="2" fill="#4a7ebb"/>
<rect x="207.6" y="645.1" width="2.2" height="2" fill="#4a7ebb"/>
<rect x="212" y="645.1" width="2.2" height="2" fill="#4a7ebb"/>
<rect x="205.7" y="650.4" width="2.2" height="2" fill="#4a7ebb"/>
<rect x="213.3" y="650.4" width="2.2" height="2" fill="#4a7ebb"/>
<rect x="217.7" y="650.4" width="2.2" height="2" fill="#4a7ebb"/>
<rect x="219.4" y="650.4" width="2.2" height="2" fill="#4a7ebb"/>
<rect x="201.3" y="656" width="2.2" height="2" fill="#4a7ebb"/>
<rect x="206.6" y="656" width="2.2" height="2" fill="#4a7ebb"/>
<rect x="208" y="656" width="2.2" height="2" fill="#4a7ebb"/>
<rect x="223.9" y="656" width="2.2" height="2" fill="#4a7ebb"/>
<rect x="204.3" y="597.9" width="33.4" height="17.7" fill="#fff" stroke="#aaa" stroke-width="0.7"/>
<text x="206" y="605.23" font-size="7.4" fill="#1a1a1a"><tspan font-style="italic">r</tspan><tspan font-size="5.92" dy="0.5" font-style="italic">s</tspan><tspan dy="-0.5">=-0.056</tspan></text>
<text x="206" y="613.2" font-size="7.4" fill="#1a1a1a"><tspan font-style="italic">p</tspan>=0.814</text>
<text x="197.7" y="679.75" font-size="7.4" text-anchor="middle" fill="#222">LATENCY</text>
<text transform="translate(142,629.5) rotate(-90)" x="0" y="2.04" font-size="5.9" text-anchor="middle" fill="#222">SPATIAL STRATEGY</text>
<text x="292.5" y="483.63" font-size="14" text-anchor="middle" fill="#000">H</text>
<rect x="324" y="487.4" width="83.7" height="66.5" fill="none" stroke="#444" stroke-width="0.8"/>
<line x1="324" y1="487.4" x2="324" y2="554.3" stroke="#222" stroke-width="0.9"/>
<line x1="323.6" y1="553.9" x2="407.7" y2="553.9" stroke="#222" stroke-width="0.9"/>
<line x1="322.4" y1="553.9" x2="324" y2="553.9" stroke="#222" stroke-width="0.5"/>
<text x="320.2" y="555.49" font-size="4.6" text-anchor="end" fill="#222">0</text>
<line x1="322.4" y1="544.43" x2="324" y2="544.43" stroke="#222" stroke-width="0.5"/>
<text x="320.2" y="546.01" font-size="4.6" text-anchor="end" fill="#222">2</text>
<line x1="322.4" y1="534.96" x2="324" y2="534.96" stroke="#222" stroke-width="0.5"/>
<text x="320.2" y="536.54" font-size="4.6" text-anchor="end" fill="#222">4</text>
<line x1="322.4" y1="525.48" x2="324" y2="525.48" stroke="#222" stroke-width="0.5"/>
<text x="320.2" y="527.07" font-size="4.6" text-anchor="end" fill="#222">6</text>
<line x1="322.4" y1="516.01" x2="324" y2="516.01" stroke="#222" stroke-width="0.5"/>
<text x="320.2" y="517.6" font-size="4.6" text-anchor="end" fill="#222">8</text>
<line x1="322.4" y1="506.54" x2="324" y2="506.54" stroke="#222" stroke-width="0.5"/>
<text x="320.2" y="508.13" font-size="4.6" text-anchor="end" fill="#222">10</text>
<line x1="322.4" y1="497.07" x2="324" y2="497.07" stroke="#222" stroke-width="0.5"/>
<text x="320.2" y="498.65" font-size="4.6" text-anchor="end" fill="#222">12</text>
<line x1="322.4" y1="487.6" x2="324" y2="487.6" stroke="#222" stroke-width="0.5"/>
<text x="320.2" y="489.18" font-size="4.6" text-anchor="end" fill="#222">14</text>
<line x1="324" y1="553.9" x2="324" y2="555.5" stroke="#222" stroke-width="0.5"/>
<text x="324" y="561.33" font-size="5" text-anchor="middle" fill="#222">0</text>
<line x1="344.93" y1="553.9" x2="344.93" y2="555.5" stroke="#222" stroke-width="0.5"/>
<text x="344.93" y="561.33" font-size="5" text-anchor="middle" fill="#222">1</text>
<line x1="365.86" y1="553.9" x2="365.86" y2="555.5" stroke="#222" stroke-width="0.5"/>
<text x="365.86" y="561.33" font-size="5" text-anchor="middle" fill="#222">2</text>
<line x1="386.79" y1="553.9" x2="386.79" y2="555.5" stroke="#222" stroke-width="0.5"/>
<text x="386.79" y="561.33" font-size="5" text-anchor="middle" fill="#222">3</text>
<line x1="407.72" y1="553.9" x2="407.72" y2="555.5" stroke="#222" stroke-width="0.5"/>
<text x="407.72" y="561.33" font-size="5" text-anchor="middle" fill="#222">4</text>
<text x="366" y="482.02" font-size="7.3" text-anchor="middle" fill="#111">B6</text>
<line x1="385.8" y1="519" x2="397.5" y2="487.6" stroke="#f07878" stroke-width="0.6"/>
<line x1="384.5" y1="510.6" x2="387.1" y2="510.6" stroke="#4a7ebb" stroke-width="0.8"/>
<line x1="385.8" y1="509.3" x2="385.8" y2="511.9" stroke="#4a7ebb" stroke-width="0.8"/>
<line x1="385.8" y1="519.9" x2="388.4" y2="519.9" stroke="#4a7ebb" stroke-width="0.8"/>
<line x1="387.1" y1="518.6" x2="387.1" y2="521.2" stroke="#4a7ebb" stroke-width="0.8"/>
<line x1="389.5" y1="496.7" x2="392.1" y2="496.7" stroke="#4a7ebb" stroke-width="0.8"/>
<line x1="390.8" y1="495.4" x2="390.8" y2="498" stroke="#4a7ebb" stroke-width="0.8"/>
<line x1="392.4" y1="496.7" x2="395" y2="496.7" stroke="#4a7ebb" stroke-width="0.8"/>
<line x1="393.7" y1="495.4" x2="393.7" y2="498" stroke="#4a7ebb" stroke-width="0.8"/>
<rect x="393.2" y="495.7" width="2.2" height="2" fill="#4a7ebb"/>
<rect x="327" y="489.3" width="33" height="19" fill="#fff" stroke="#aaa" stroke-width="0.7"/>
<text x="328.7" y="497.05" font-size="7.6" fill="#1a1a1a"><tspan font-style="italic">r</tspan><tspan font-size="6.08" dy="0.5" font-style="italic">s</tspan><tspan dy="-0.5">=0.863</tspan></text>
<text x="328.7" y="505.6" font-size="7.6" fill="#1a1a1a"><tspan font-style="italic">p</tspan>= 0.036</text>
<text transform="translate(305.2,521) rotate(-90)" x="0" y="2.64" font-size="7.65" text-anchor="middle" fill="#222">SPATIAL STRATEGY</text>
<rect x="418.9" y="487.3" width="82" height="66.4" fill="none" stroke="#444" stroke-width="0.8"/>
<line x1="418.9" y1="487.3" x2="418.9" y2="554.1" stroke="#222" stroke-width="0.9"/>
<line x1="418.5" y1="553.7" x2="500.9" y2="553.7" stroke="#222" stroke-width="0.9"/>
<line x1="417.3" y1="553.7" x2="418.9" y2="553.7" stroke="#222" stroke-width="0.5"/>
<line x1="417.3" y1="544.23" x2="418.9" y2="544.23" stroke="#222" stroke-width="0.5"/>
<line x1="417.3" y1="534.76" x2="418.9" y2="534.76" stroke="#222" stroke-width="0.5"/>
<line x1="417.3" y1="525.28" x2="418.9" y2="525.28" stroke="#222" stroke-width="0.5"/>
<line x1="417.3" y1="515.81" x2="418.9" y2="515.81" stroke="#222" stroke-width="0.5"/>
<line x1="417.3" y1="506.34" x2="418.9" y2="506.34" stroke="#222" stroke-width="0.5"/>
<line x1="417.3" y1="496.87" x2="418.9" y2="496.87" stroke="#222" stroke-width="0.5"/>
<line x1="417.3" y1="487.4" x2="418.9" y2="487.4" stroke="#222" stroke-width="0.5"/>
<line x1="418.9" y1="553.7" x2="418.9" y2="555.3" stroke="#222" stroke-width="0.5"/>
<text x="418.9" y="561.33" font-size="5" text-anchor="middle" fill="#222">0</text>
<line x1="439.4" y1="553.7" x2="439.4" y2="555.3" stroke="#222" stroke-width="0.5"/>
<text x="439.4" y="561.33" font-size="5" text-anchor="middle" fill="#222">1</text>
<line x1="459.9" y1="553.7" x2="459.9" y2="555.3" stroke="#222" stroke-width="0.5"/>
<text x="459.9" y="561.33" font-size="5" text-anchor="middle" fill="#222">2</text>
<line x1="480.4" y1="553.7" x2="480.4" y2="555.3" stroke="#222" stroke-width="0.5"/>
<text x="480.4" y="561.33" font-size="5" text-anchor="middle" fill="#222">3</text>
<line x1="500.9" y1="553.7" x2="500.9" y2="555.3" stroke="#222" stroke-width="0.5"/>
<text x="500.9" y="561.33" font-size="5" text-anchor="middle" fill="#222">4</text>
<text x="460.7" y="482.12" font-size="7.3" text-anchor="middle" fill="#111">BTBR</text>
<line x1="445.1" y1="538.4" x2="460.9" y2="534.2" stroke="#f07878" stroke-width="0.6"/>
<rect x="450.5" y="523.5" width="2.2" height="2" fill="#4a7ebb"/>
<rect x="449.6" y="528.5" width="2.2" height="2" fill="#4a7ebb"/>
<rect x="452.4" y="533.2" width="2.2" height="2" fill="#4a7ebb"/>
<rect x="459.8" y="533.2" width="2.2" height="2" fill="#4a7ebb"/>
<rect x="454.6" y="538" width="2.2" height="2" fill="#4a7ebb"/>
<rect x="444.6" y="543" width="2.2" height="2" fill="#4a7ebb"/>
<rect x="452.4" y="547.6" width="2.2" height="2" fill="#4a7ebb"/>
<rect x="466.7" y="489.8" width="32.5" height="17.8" fill="#fff" stroke="#aaa" stroke-width="0.7"/>
<text x="468.4" y="497.23" font-size="7.6" fill="#1a1a1a"><tspan font-style="italic">r</tspan><tspan font-size="6.08" dy="0.5" font-style="italic">s</tspan><tspan dy="-0.5">=0.142</tspan></text>
<text x="468.4" y="505.24" font-size="7.6" fill="#1a1a1a"><tspan font-style="italic">p</tspan>= 0.244</text>
<text x="412.0" y="571.59" font-size="7.5" text-anchor="middle" fill="#222">dHPC VOLUME (mm<tspan font-size="5" dy="-2.6">3</tspan><tspan dy="2.6">)</tspan></text>
<text x="288.3" y="600.83" font-size="14" text-anchor="middle" fill="#000">I</text>
<rect x="324" y="597" width="83.5" height="65.7" fill="none" stroke="#444" stroke-width="0.8"/>
<line x1="324" y1="597" x2="324" y2="663.1" stroke="#222" stroke-width="0.9"/>
<line x1="323.6" y1="662.7" x2="407.5" y2="662.7" stroke="#222" stroke-width="0.9"/>
<line x1="322.4" y1="662.7" x2="324" y2="662.7" stroke="#222" stroke-width="0.5"/>
<text x="320.2" y="664.29" font-size="4.6" text-anchor="end" fill="#222">0</text>
<line x1="322.4" y1="653.31" x2="324" y2="653.31" stroke="#222" stroke-width="0.5"/>
<text x="320.2" y="654.9" font-size="4.6" text-anchor="end" fill="#222">2</text>
<line x1="322.4" y1="643.93" x2="324" y2="643.93" stroke="#222" stroke-width="0.5"/>
<text x="320.2" y="645.51" font-size="4.6" text-anchor="end" fill="#222">4</text>
<line x1="322.4" y1="634.54" x2="324" y2="634.54" stroke="#222" stroke-width="0.5"/>
<text x="320.2" y="636.13" font-size="4.6" text-anchor="end" fill="#222">6</text>
<line x1="322.4" y1="625.16" x2="324" y2="625.16" stroke="#222" stroke-width="0.5"/>
<text x="320.2" y="626.74" font-size="4.6" text-anchor="end" fill="#222">8</text>
<line x1="322.4" y1="615.77" x2="324" y2="615.77" stroke="#222" stroke-width="0.5"/>
<text x="320.2" y="617.36" font-size="4.6" text-anchor="end" fill="#222">10</text>
<line x1="322.4" y1="606.38" x2="324" y2="606.38" stroke="#222" stroke-width="0.5"/>
<text x="320.2" y="607.97" font-size="4.6" text-anchor="end" fill="#222">12</text>
<line x1="322.4" y1="597" x2="324" y2="597" stroke="#222" stroke-width="0.5"/>
<text x="320.2" y="598.59" font-size="4.6" text-anchor="end" fill="#222">14</text>
<line x1="324.6" y1="662.7" x2="324.6" y2="664.3" stroke="#222" stroke-width="0.5"/>
<text x="324.6" y="670.66" font-size="4.8" text-anchor="middle" fill="#222">0</text>
<line x1="352.2" y1="662.7" x2="352.2" y2="664.3" stroke="#222" stroke-width="0.5"/>
<text x="352.2" y="670.66" font-size="4.8" text-anchor="middle" fill="#222">500</text>
<line x1="380" y1="662.7" x2="380" y2="664.3" stroke="#222" stroke-width="0.5"/>
<text x="380" y="670.66" font-size="4.8" text-anchor="middle" fill="#222">1000</text>
<line x1="407.5" y1="662.7" x2="407.5" y2="664.3" stroke="#222" stroke-width="0.5"/>
<text x="407.5" y="670.66" font-size="4.8" text-anchor="middle" fill="#222">1500</text>
<line x1="380.3" y1="618.8" x2="394.6" y2="609.6" stroke="#f07878" stroke-width="0.6"/>
<line x1="379" y1="605.8" x2="381.6" y2="605.8" stroke="#4a7ebb" stroke-width="0.8"/>
<line x1="380.3" y1="604.5" x2="380.3" y2="607.1" stroke="#4a7ebb" stroke-width="0.8"/>
<line x1="381.5" y1="605.8" x2="384.1" y2="605.8" stroke="#4a7ebb" stroke-width="0.8"/>
<line x1="382.8" y1="604.5" x2="382.8" y2="607.1" stroke="#4a7ebb" stroke-width="0.8"/>
<line x1="391" y1="605.8" x2="393.6" y2="605.8" stroke="#4a7ebb" stroke-width="0.8"/>
<line x1="392.3" y1="604.5" x2="392.3" y2="607.1" stroke="#4a7ebb" stroke-width="0.8"/>
<line x1="393.5" y1="605.8" x2="396.1" y2="605.8" stroke="#4a7ebb" stroke-width="0.8"/>
<line x1="394.8" y1="604.5" x2="394.8" y2="607.1" stroke="#4a7ebb" stroke-width="0.8"/>
<line x1="383.5" y1="620.1" x2="386.1" y2="620.1" stroke="#4a7ebb" stroke-width="0.8"/>
<line x1="384.8" y1="618.8" x2="384.8" y2="621.4" stroke="#4a7ebb" stroke-width="0.8"/>
<rect x="382.9" y="628.6" width="2.2" height="2" fill="#4a7ebb"/>
<rect x="326.6" y="598.8" width="31.9" height="17.5" fill="#fff" stroke="#aaa" stroke-width="0.7"/>
<text x="328.3" y="606.15" font-size="7.6" fill="#1a1a1a"><tspan font-style="italic">r</tspan><tspan font-size="6.08" dy="0.5" font-style="italic">s</tspan><tspan dy="-0.5">=0.303</tspan></text>
<text x="328.3" y="614.02" font-size="7.6" fill="#1a1a1a"><tspan font-style="italic">p</tspan>=0.041</text>
<text transform="translate(305.2,630.5) rotate(-90)" x="0" y="2.64" font-size="7.65" text-anchor="middle" fill="#222">SPATIAL STRATEGY</text>
<rect x="417.9" y="596.9" width="83.4" height="65.2" fill="none" stroke="#444" stroke-width="0.8"/>
<line x1="417.9" y1="596.9" x2="417.9" y2="662.5" stroke="#222" stroke-width="0.9"/>
<line x1="417.5" y1="662.1" x2="501.3" y2="662.1" stroke="#222" stroke-width="0.9"/>
<line x1="416.3" y1="662.1" x2="417.9" y2="662.1" stroke="#222" stroke-width="0.5"/>
<line x1="416.3" y1="652.78" x2="417.9" y2="652.78" stroke="#222" stroke-width="0.5"/>
<line x1="416.3" y1="643.46" x2="417.9" y2="643.46" stroke="#222" stroke-width="0.5"/>
<line x1="416.3" y1="634.14" x2="417.9" y2="634.14" stroke="#222" stroke-width="0.5"/>
<line x1="416.3" y1="624.82" x2="417.9" y2="624.82" stroke="#222" stroke-width="0.5"/>
<line x1="416.3" y1="615.5" x2="417.9" y2="615.5" stroke="#222" stroke-width="0.5"/>
<line x1="416.3" y1="606.18" x2="417.9" y2="606.18" stroke="#222" stroke-width="0.5"/>
<line x1="416.3" y1="596.86" x2="417.9" y2="596.86" stroke="#222" stroke-width="0.5"/>
<line x1="418.7" y1="662.1" x2="418.7" y2="663.7" stroke="#222" stroke-width="0.5"/>
<text x="418.7" y="670.66" font-size="4.8" text-anchor="middle" fill="#222">0</text>
<line x1="446" y1="662.1" x2="446" y2="663.7" stroke="#222" stroke-width="0.5"/>
<text x="446" y="670.66" font-size="4.8" text-anchor="middle" fill="#222">500</text>
<line x1="473.4" y1="662.1" x2="473.4" y2="663.7" stroke="#222" stroke-width="0.5"/>
<text x="473.4" y="670.66" font-size="4.8" text-anchor="middle" fill="#222">1000</text>
<line x1="501.3" y1="662.1" x2="501.3" y2="663.7" stroke="#222" stroke-width="0.5"/>
<text x="501.3" y="670.66" font-size="4.8" text-anchor="middle" fill="#222">1500</text>
<line x1="468.4" y1="652.1" x2="477.1" y2="641" stroke="#f07878" stroke-width="0.6"/>
<rect x="474.3" y="633.2" width="2.2" height="2" fill="#4a7ebb"/>
<rect x="469.8" y="638" width="2.2" height="2" fill="#4a7ebb"/>
<rect x="473.1" y="642.9" width="2.2" height="2" fill="#4a7ebb"/>
<rect x="476" y="642.9" width="2.2" height="2" fill="#4a7ebb"/>
<rect x="470.6" y="647.4" width="2.2" height="2" fill="#4a7ebb"/>
<rect x="473.6" y="652.4" width="2.2" height="2" fill="#4a7ebb"/>
<rect x="467.8" y="656.9" width="2.2" height="2" fill="#4a7ebb"/>
<rect x="466.7" y="598.7" width="32.8" height="18.6" fill="#fff" stroke="#aaa" stroke-width="0.7"/>
<text x="468.4" y="606.34" font-size="7.6" fill="#1a1a1a"><tspan font-style="italic">r</tspan><tspan font-size="6.08" dy="0.5" font-style="italic">s</tspan><tspan dy="-0.5">=0.120</tspan></text>
<text x="468.4" y="614.71" font-size="7.6" fill="#1a1a1a"><tspan font-style="italic">p</tspan>= 0.079</text>
<text x="412" y="682.89" font-size="7.5" text-anchor="middle" fill="#222">CELL DENSITY(#)-LATERAL CORTEX</text>
</svg>
</body></html>
